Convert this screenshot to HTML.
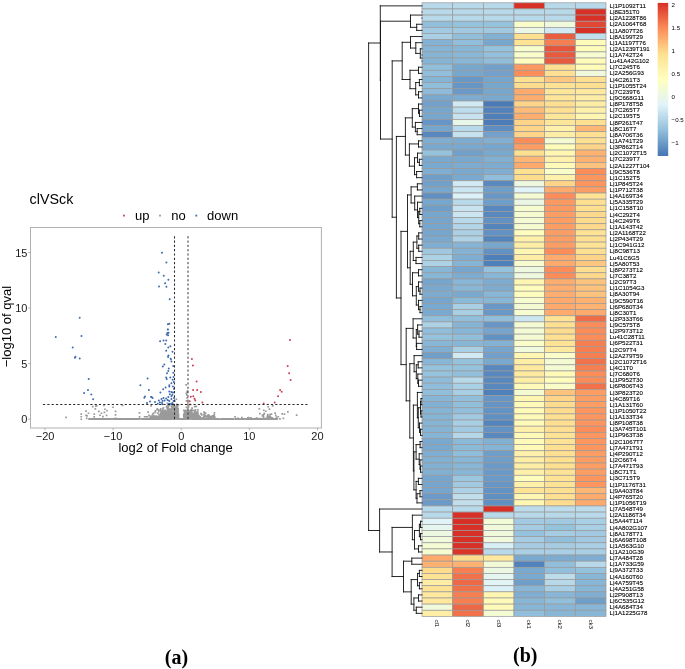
<!DOCTYPE html><html><head><meta charset="utf-8"><style>html,body{margin:0;padding:0;background:#fff;width:685px;height:669px;overflow:hidden}svg{display:block}text{font-family:"Liberation Sans",Arial,sans-serif}</style></head><body>
<svg width="685" height="669" viewBox="0 0 685 669">
<rect width="685" height="669" fill="#fff"/>
<path d="M148.9 418.1h1.7v1.7h-1.7zM210.2 418.1h1.7v1.7h-1.7zM188.6 418.1h1.7v1.7h-1.7zM99.0 418.2h1.7v1.7h-1.7zM95.2 418.1h1.7v1.7h-1.7zM101.2 418.1h1.7v1.7h-1.7zM167.7 418.2h1.7v1.7h-1.7zM111.4 418.1h1.7v1.7h-1.7zM205.8 418.2h1.7v1.7h-1.7zM196.4 418.1h1.7v1.7h-1.7zM271.2 418.1h1.7v1.7h-1.7zM249.1 418.1h1.7v1.7h-1.7zM115.2 418.1h1.7v1.7h-1.7zM146.0 418.2h1.7v1.7h-1.7zM122.0 418.2h1.7v1.7h-1.7zM207.9 418.1h1.7v1.7h-1.7zM190.9 418.1h1.7v1.7h-1.7zM99.3 418.1h1.7v1.7h-1.7zM215.7 418.1h1.7v1.7h-1.7zM147.1 418.2h1.7v1.7h-1.7zM173.1 418.1h1.7v1.7h-1.7zM237.1 418.2h1.7v1.7h-1.7zM133.9 418.2h1.7v1.7h-1.7zM186.6 418.2h1.7v1.7h-1.7zM224.9 418.1h1.7v1.7h-1.7zM271.9 418.1h1.7v1.7h-1.7zM166.5 418.2h1.7v1.7h-1.7zM116.6 418.1h1.7v1.7h-1.7zM95.5 418.2h1.7v1.7h-1.7zM231.5 418.2h1.7v1.7h-1.7zM252.3 418.1h1.7v1.7h-1.7zM218.5 418.2h1.7v1.7h-1.7zM196.9 418.1h1.7v1.7h-1.7zM245.6 418.2h1.7v1.7h-1.7zM177.0 418.2h1.7v1.7h-1.7zM99.5 418.2h1.7v1.7h-1.7zM209.5 418.2h1.7v1.7h-1.7zM242.3 418.1h1.7v1.7h-1.7zM160.5 418.2h1.7v1.7h-1.7zM92.4 418.1h1.7v1.7h-1.7zM119.7 418.1h1.7v1.7h-1.7zM99.2 418.2h1.7v1.7h-1.7zM112.4 418.1h1.7v1.7h-1.7zM161.5 418.2h1.7v1.7h-1.7zM103.3 418.1h1.7v1.7h-1.7zM191.2 418.2h1.7v1.7h-1.7zM241.8 418.2h1.7v1.7h-1.7zM140.4 418.1h1.7v1.7h-1.7zM155.4 418.2h1.7v1.7h-1.7zM267.7 418.1h1.7v1.7h-1.7zM121.2 418.1h1.7v1.7h-1.7zM131.9 418.1h1.7v1.7h-1.7zM198.6 418.1h1.7v1.7h-1.7zM88.9 418.1h1.7v1.7h-1.7zM157.4 418.2h1.7v1.7h-1.7zM266.9 418.2h1.7v1.7h-1.7zM184.8 418.2h1.7v1.7h-1.7zM214.9 418.1h1.7v1.7h-1.7zM256.8 418.2h1.7v1.7h-1.7zM252.1 418.2h1.7v1.7h-1.7zM161.7 418.1h1.7v1.7h-1.7zM107.6 418.2h1.7v1.7h-1.7zM99.8 418.1h1.7v1.7h-1.7zM127.3 418.1h1.7v1.7h-1.7zM151.9 418.1h1.7v1.7h-1.7zM88.2 418.1h1.7v1.7h-1.7zM107.2 418.1h1.7v1.7h-1.7zM92.9 418.2h1.7v1.7h-1.7zM203.3 418.1h1.7v1.7h-1.7zM135.4 418.1h1.7v1.7h-1.7zM156.4 418.1h1.7v1.7h-1.7zM247.3 418.2h1.7v1.7h-1.7zM175.5 418.1h1.7v1.7h-1.7zM104.3 418.1h1.7v1.7h-1.7zM152.4 418.1h1.7v1.7h-1.7zM243.6 418.1h1.7v1.7h-1.7zM92.5 418.2h1.7v1.7h-1.7zM187.2 418.1h1.7v1.7h-1.7zM190.0 418.1h1.7v1.7h-1.7zM187.2 418.2h1.7v1.7h-1.7zM250.0 418.2h1.7v1.7h-1.7zM137.1 418.1h1.7v1.7h-1.7zM119.5 418.2h1.7v1.7h-1.7zM188.0 418.2h1.7v1.7h-1.7zM150.0 418.1h1.7v1.7h-1.7zM240.3 418.2h1.7v1.7h-1.7zM248.0 418.2h1.7v1.7h-1.7zM241.6 418.2h1.7v1.7h-1.7zM130.7 418.2h1.7v1.7h-1.7zM154.8 418.1h1.7v1.7h-1.7zM93.4 418.1h1.7v1.7h-1.7zM136.7 418.2h1.7v1.7h-1.7zM267.5 418.1h1.7v1.7h-1.7zM263.8 418.2h1.7v1.7h-1.7zM267.2 418.1h1.7v1.7h-1.7zM129.5 418.1h1.7v1.7h-1.7zM125.0 418.1h1.7v1.7h-1.7zM205.2 418.2h1.7v1.7h-1.7zM245.7 418.1h1.7v1.7h-1.7zM210.6 418.2h1.7v1.7h-1.7zM104.0 418.2h1.7v1.7h-1.7zM258.7 418.2h1.7v1.7h-1.7zM228.8 418.1h1.7v1.7h-1.7zM121.6 418.2h1.7v1.7h-1.7zM150.5 418.2h1.7v1.7h-1.7zM270.3 418.1h1.7v1.7h-1.7zM163.4 418.2h1.7v1.7h-1.7zM224.0 418.1h1.7v1.7h-1.7zM112.0 418.1h1.7v1.7h-1.7zM257.8 418.2h1.7v1.7h-1.7zM115.6 418.2h1.7v1.7h-1.7zM272.0 418.2h1.7v1.7h-1.7zM153.9 418.2h1.7v1.7h-1.7zM112.7 418.1h1.7v1.7h-1.7zM270.2 418.2h1.7v1.7h-1.7zM186.9 418.2h1.7v1.7h-1.7zM169.5 418.2h1.7v1.7h-1.7zM243.1 418.1h1.7v1.7h-1.7zM135.4 418.1h1.7v1.7h-1.7zM133.3 418.2h1.7v1.7h-1.7zM136.8 418.1h1.7v1.7h-1.7zM112.7 418.2h1.7v1.7h-1.7zM154.5 418.1h1.7v1.7h-1.7zM197.5 418.2h1.7v1.7h-1.7zM167.0 418.2h1.7v1.7h-1.7zM182.2 418.2h1.7v1.7h-1.7zM186.3 418.1h1.7v1.7h-1.7zM170.7 418.1h1.7v1.7h-1.7zM88.9 418.2h1.7v1.7h-1.7zM120.5 418.1h1.7v1.7h-1.7zM224.1 418.2h1.7v1.7h-1.7zM149.3 418.2h1.7v1.7h-1.7zM192.3 418.2h1.7v1.7h-1.7zM108.0 418.2h1.7v1.7h-1.7zM134.7 418.1h1.7v1.7h-1.7zM232.9 418.2h1.7v1.7h-1.7zM193.5 418.2h1.7v1.7h-1.7zM259.2 418.1h1.7v1.7h-1.7zM203.0 418.2h1.7v1.7h-1.7zM184.2 418.2h1.7v1.7h-1.7zM173.0 418.2h1.7v1.7h-1.7zM177.8 418.2h1.7v1.7h-1.7zM219.3 418.2h1.7v1.7h-1.7zM264.8 418.1h1.7v1.7h-1.7zM193.1 418.2h1.7v1.7h-1.7zM245.6 418.1h1.7v1.7h-1.7zM111.0 418.1h1.7v1.7h-1.7zM101.8 418.1h1.7v1.7h-1.7zM101.9 418.2h1.7v1.7h-1.7zM235.1 418.2h1.7v1.7h-1.7zM117.1 418.2h1.7v1.7h-1.7zM211.9 418.1h1.7v1.7h-1.7zM253.7 418.2h1.7v1.7h-1.7zM129.3 418.2h1.7v1.7h-1.7zM162.8 418.1h1.7v1.7h-1.7zM273.8 418.2h1.7v1.7h-1.7zM118.4 418.1h1.7v1.7h-1.7zM184.8 418.1h1.7v1.7h-1.7zM124.9 418.1h1.7v1.7h-1.7zM223.6 418.1h1.7v1.7h-1.7zM192.0 418.1h1.7v1.7h-1.7zM91.5 418.1h1.7v1.7h-1.7zM205.1 418.2h1.7v1.7h-1.7zM100.2 418.2h1.7v1.7h-1.7zM236.0 418.2h1.7v1.7h-1.7zM107.8 418.1h1.7v1.7h-1.7zM95.6 418.2h1.7v1.7h-1.7zM138.9 418.1h1.7v1.7h-1.7zM167.3 418.2h1.7v1.7h-1.7zM241.7 418.1h1.7v1.7h-1.7zM116.2 418.2h1.7v1.7h-1.7zM195.1 418.2h1.7v1.7h-1.7zM104.9 418.1h1.7v1.7h-1.7zM217.2 418.1h1.7v1.7h-1.7zM101.7 418.2h1.7v1.7h-1.7zM207.1 418.2h1.7v1.7h-1.7zM103.9 418.2h1.7v1.7h-1.7zM100.6 418.2h1.7v1.7h-1.7zM173.2 418.1h1.7v1.7h-1.7zM191.8 418.2h1.7v1.7h-1.7zM138.4 418.1h1.7v1.7h-1.7zM186.9 418.1h1.7v1.7h-1.7zM108.7 418.1h1.7v1.7h-1.7zM97.6 418.1h1.7v1.7h-1.7zM146.6 418.1h1.7v1.7h-1.7zM230.6 418.1h1.7v1.7h-1.7zM181.9 418.1h1.7v1.7h-1.7zM153.2 418.1h1.7v1.7h-1.7zM135.1 418.1h1.7v1.7h-1.7zM225.6 418.2h1.7v1.7h-1.7zM123.7 418.1h1.7v1.7h-1.7zM263.4 418.1h1.7v1.7h-1.7zM241.7 418.1h1.7v1.7h-1.7zM181.0 418.2h1.7v1.7h-1.7zM161.9 418.2h1.7v1.7h-1.7zM217.1 418.2h1.7v1.7h-1.7zM152.4 418.2h1.7v1.7h-1.7zM220.7 418.2h1.7v1.7h-1.7zM164.0 418.1h1.7v1.7h-1.7zM98.3 418.1h1.7v1.7h-1.7zM101.4 418.2h1.7v1.7h-1.7zM136.1 418.1h1.7v1.7h-1.7zM104.0 418.2h1.7v1.7h-1.7zM251.4 418.2h1.7v1.7h-1.7zM141.0 418.1h1.7v1.7h-1.7zM143.1 418.1h1.7v1.7h-1.7zM117.7 418.1h1.7v1.7h-1.7zM137.5 418.2h1.7v1.7h-1.7zM270.5 418.2h1.7v1.7h-1.7zM134.0 418.2h1.7v1.7h-1.7zM146.2 418.1h1.7v1.7h-1.7zM88.4 418.1h1.7v1.7h-1.7zM177.1 418.2h1.7v1.7h-1.7zM125.8 418.2h1.7v1.7h-1.7zM89.1 418.1h1.7v1.7h-1.7zM105.0 418.1h1.7v1.7h-1.7zM96.0 418.1h1.7v1.7h-1.7zM145.2 418.1h1.7v1.7h-1.7zM197.9 418.2h1.7v1.7h-1.7zM228.9 418.2h1.7v1.7h-1.7zM222.4 418.2h1.7v1.7h-1.7zM161.2 418.1h1.7v1.7h-1.7zM272.8 418.1h1.7v1.7h-1.7zM223.9 418.2h1.7v1.7h-1.7zM96.4 418.2h1.7v1.7h-1.7zM255.4 418.2h1.7v1.7h-1.7zM225.7 418.2h1.7v1.7h-1.7zM114.3 418.2h1.7v1.7h-1.7zM182.7 418.2h1.7v1.7h-1.7zM239.0 418.2h1.7v1.7h-1.7zM197.7 418.2h1.7v1.7h-1.7zM216.2 418.2h1.7v1.7h-1.7zM131.3 418.1h1.7v1.7h-1.7zM113.1 418.1h1.7v1.7h-1.7zM107.8 418.2h1.7v1.7h-1.7zM192.9 418.2h1.7v1.7h-1.7zM205.6 418.2h1.7v1.7h-1.7zM179.9 418.1h1.7v1.7h-1.7zM237.7 418.2h1.7v1.7h-1.7zM182.5 418.2h1.7v1.7h-1.7zM211.8 418.1h1.7v1.7h-1.7zM226.3 418.1h1.7v1.7h-1.7zM102.1 418.1h1.7v1.7h-1.7zM224.9 418.1h1.7v1.7h-1.7zM226.9 418.2h1.7v1.7h-1.7zM180.8 418.1h1.7v1.7h-1.7zM178.0 418.2h1.7v1.7h-1.7zM232.0 418.2h1.7v1.7h-1.7zM208.7 418.1h1.7v1.7h-1.7zM115.8 418.1h1.7v1.7h-1.7zM227.5 418.1h1.7v1.7h-1.7zM194.6 418.1h1.7v1.7h-1.7zM99.5 418.1h1.7v1.7h-1.7zM214.2 418.2h1.7v1.7h-1.7zM214.8 418.1h1.7v1.7h-1.7zM185.0 418.1h1.7v1.7h-1.7zM175.6 418.1h1.7v1.7h-1.7zM255.7 418.1h1.7v1.7h-1.7zM271.5 418.2h1.7v1.7h-1.7zM91.4 418.1h1.7v1.7h-1.7zM241.9 418.2h1.7v1.7h-1.7zM172.4 418.1h1.7v1.7h-1.7zM127.5 418.2h1.7v1.7h-1.7zM127.7 418.2h1.7v1.7h-1.7zM114.7 418.2h1.7v1.7h-1.7zM266.8 418.1h1.7v1.7h-1.7zM241.9 418.2h1.7v1.7h-1.7zM254.4 418.2h1.7v1.7h-1.7zM131.5 418.2h1.7v1.7h-1.7zM179.3 418.1h1.7v1.7h-1.7zM88.8 418.1h1.7v1.7h-1.7zM172.7 418.1h1.7v1.7h-1.7zM114.5 418.1h1.7v1.7h-1.7zM147.4 418.2h1.7v1.7h-1.7zM88.5 418.2h1.7v1.7h-1.7zM245.5 418.1h1.7v1.7h-1.7zM261.8 418.2h1.7v1.7h-1.7zM257.2 418.1h1.7v1.7h-1.7zM157.9 418.1h1.7v1.7h-1.7zM275.4 418.2h1.7v1.7h-1.7zM155.8 418.1h1.7v1.7h-1.7zM139.7 418.1h1.7v1.7h-1.7zM107.2 418.2h1.7v1.7h-1.7zM141.7 418.2h1.7v1.7h-1.7zM134.9 418.1h1.7v1.7h-1.7zM184.0 418.1h1.7v1.7h-1.7zM158.2 418.2h1.7v1.7h-1.7zM253.9 418.2h1.7v1.7h-1.7zM206.4 418.2h1.7v1.7h-1.7zM264.5 418.2h1.7v1.7h-1.7zM223.1 418.1h1.7v1.7h-1.7zM225.5 418.1h1.7v1.7h-1.7zM229.3 418.2h1.7v1.7h-1.7zM141.8 418.1h1.7v1.7h-1.7zM261.9 418.1h1.7v1.7h-1.7zM176.7 418.1h1.7v1.7h-1.7zM144.0 418.2h1.7v1.7h-1.7zM271.2 418.1h1.7v1.7h-1.7zM211.1 418.1h1.7v1.7h-1.7zM192.6 418.1h1.7v1.7h-1.7zM119.5 418.1h1.7v1.7h-1.7zM127.1 418.2h1.7v1.7h-1.7zM181.4 418.1h1.7v1.7h-1.7zM258.1 418.2h1.7v1.7h-1.7zM172.5 418.1h1.7v1.7h-1.7zM124.2 418.1h1.7v1.7h-1.7zM152.3 418.1h1.7v1.7h-1.7zM133.0 418.1h1.7v1.7h-1.7zM195.0 418.2h1.7v1.7h-1.7zM228.7 418.1h1.7v1.7h-1.7zM165.8 418.2h1.7v1.7h-1.7zM158.8 418.1h1.7v1.7h-1.7zM99.8 418.1h1.7v1.7h-1.7zM269.6 418.1h1.7v1.7h-1.7zM182.5 418.2h1.7v1.7h-1.7zM249.9 418.1h1.7v1.7h-1.7zM139.0 418.1h1.7v1.7h-1.7zM163.1 418.1h1.7v1.7h-1.7zM267.0 418.2h1.7v1.7h-1.7zM251.8 418.1h1.7v1.7h-1.7zM94.2 418.2h1.7v1.7h-1.7zM256.1 418.1h1.7v1.7h-1.7zM198.2 418.1h1.7v1.7h-1.7zM161.6 418.2h1.7v1.7h-1.7zM242.9 418.2h1.7v1.7h-1.7zM270.4 418.1h1.7v1.7h-1.7zM108.6 418.1h1.7v1.7h-1.7zM186.1 418.2h1.7v1.7h-1.7zM264.7 418.2h1.7v1.7h-1.7zM209.5 418.2h1.7v1.7h-1.7zM173.9 418.2h1.7v1.7h-1.7zM95.6 418.2h1.7v1.7h-1.7zM131.8 418.2h1.7v1.7h-1.7zM209.2 418.1h1.7v1.7h-1.7zM112.1 418.1h1.7v1.7h-1.7zM207.5 418.2h1.7v1.7h-1.7zM109.2 418.1h1.7v1.7h-1.7zM186.5 418.2h1.7v1.7h-1.7zM160.9 418.1h1.7v1.7h-1.7zM200.8 418.1h1.7v1.7h-1.7zM144.7 418.1h1.7v1.7h-1.7zM268.0 418.2h1.7v1.7h-1.7zM253.9 418.1h1.7v1.7h-1.7zM132.2 418.1h1.7v1.7h-1.7zM268.3 418.2h1.7v1.7h-1.7zM145.8 418.1h1.7v1.7h-1.7zM181.6 418.2h1.7v1.7h-1.7zM166.9 418.1h1.7v1.7h-1.7zM213.3 418.2h1.7v1.7h-1.7zM130.7 418.1h1.7v1.7h-1.7zM151.5 418.1h1.7v1.7h-1.7zM216.1 418.1h1.7v1.7h-1.7zM237.6 418.2h1.7v1.7h-1.7zM182.8 418.1h1.7v1.7h-1.7zM270.0 418.1h1.7v1.7h-1.7zM241.9 418.1h1.7v1.7h-1.7zM129.7 418.2h1.7v1.7h-1.7zM143.4 418.2h1.7v1.7h-1.7zM181.1 418.1h1.7v1.7h-1.7zM130.0 418.1h1.7v1.7h-1.7zM212.9 418.2h1.7v1.7h-1.7zM115.6 418.1h1.7v1.7h-1.7zM128.1 418.2h1.7v1.7h-1.7zM114.8 418.1h1.7v1.7h-1.7zM99.4 418.1h1.7v1.7h-1.7zM256.6 418.2h1.7v1.7h-1.7zM225.5 418.2h1.7v1.7h-1.7zM262.8 418.1h1.7v1.7h-1.7zM122.9 418.2h1.7v1.7h-1.7zM228.1 418.1h1.7v1.7h-1.7zM212.7 418.1h1.7v1.7h-1.7zM158.3 418.1h1.7v1.7h-1.7zM119.9 418.1h1.7v1.7h-1.7zM140.6 418.1h1.7v1.7h-1.7zM267.3 418.1h1.7v1.7h-1.7zM269.0 418.1h1.7v1.7h-1.7zM155.0 418.2h1.7v1.7h-1.7zM242.3 418.1h1.7v1.7h-1.7zM97.4 418.1h1.7v1.7h-1.7zM158.0 418.2h1.7v1.7h-1.7zM124.3 418.1h1.7v1.7h-1.7zM256.3 418.1h1.7v1.7h-1.7zM165.2 418.2h1.7v1.7h-1.7zM231.9 418.1h1.7v1.7h-1.7zM94.7 418.1h1.7v1.7h-1.7zM260.7 418.1h1.7v1.7h-1.7zM228.3 418.2h1.7v1.7h-1.7zM151.7 418.1h1.7v1.7h-1.7zM267.7 418.2h1.7v1.7h-1.7zM137.3 418.2h1.7v1.7h-1.7zM147.5 418.1h1.7v1.7h-1.7zM88.9 418.2h1.7v1.7h-1.7zM260.0 418.2h1.7v1.7h-1.7zM265.0 418.1h1.7v1.7h-1.7zM132.0 418.1h1.7v1.7h-1.7zM267.5 418.2h1.7v1.7h-1.7zM160.6 418.1h1.7v1.7h-1.7zM168.8 418.1h1.7v1.7h-1.7zM262.2 418.1h1.7v1.7h-1.7zM238.6 418.2h1.7v1.7h-1.7zM242.4 418.2h1.7v1.7h-1.7zM202.0 418.1h1.7v1.7h-1.7zM148.1 418.1h1.7v1.7h-1.7zM234.8 418.1h1.7v1.7h-1.7zM125.1 418.2h1.7v1.7h-1.7zM134.5 418.1h1.7v1.7h-1.7zM94.5 418.2h1.7v1.7h-1.7zM149.2 418.2h1.7v1.7h-1.7zM253.8 418.2h1.7v1.7h-1.7zM137.8 418.1h1.7v1.7h-1.7zM106.2 418.1h1.7v1.7h-1.7zM221.2 418.1h1.7v1.7h-1.7zM132.1 418.1h1.7v1.7h-1.7zM204.5 418.2h1.7v1.7h-1.7zM228.4 418.2h1.7v1.7h-1.7zM212.7 418.1h1.7v1.7h-1.7zM245.8 418.1h1.7v1.7h-1.7zM194.4 418.1h1.7v1.7h-1.7zM226.5 418.1h1.7v1.7h-1.7zM134.5 418.1h1.7v1.7h-1.7zM116.9 418.2h1.7v1.7h-1.7zM196.6 418.1h1.7v1.7h-1.7zM162.4 418.2h1.7v1.7h-1.7zM183.3 418.1h1.7v1.7h-1.7zM239.7 418.2h1.7v1.7h-1.7zM274.0 418.1h1.7v1.7h-1.7zM177.2 418.2h1.7v1.7h-1.7zM245.8 418.2h1.7v1.7h-1.7zM95.7 418.1h1.7v1.7h-1.7zM110.5 418.1h1.7v1.7h-1.7zM270.6 418.2h1.7v1.7h-1.7zM262.6 418.1h1.7v1.7h-1.7zM250.5 418.1h1.7v1.7h-1.7zM136.9 418.2h1.7v1.7h-1.7zM265.5 418.1h1.7v1.7h-1.7zM199.9 418.2h1.7v1.7h-1.7zM129.0 418.1h1.7v1.7h-1.7zM114.7 418.1h1.7v1.7h-1.7zM135.9 418.2h1.7v1.7h-1.7zM210.3 418.1h1.7v1.7h-1.7zM90.3 418.1h1.7v1.7h-1.7zM215.3 418.1h1.7v1.7h-1.7zM146.7 418.1h1.7v1.7h-1.7zM237.3 418.2h1.7v1.7h-1.7zM100.0 418.1h1.7v1.7h-1.7zM162.3 418.2h1.7v1.7h-1.7zM208.0 418.1h1.7v1.7h-1.7zM118.8 418.2h1.7v1.7h-1.7zM165.0 418.1h1.7v1.7h-1.7zM145.8 418.2h1.7v1.7h-1.7zM146.7 418.2h1.7v1.7h-1.7zM155.1 418.1h1.7v1.7h-1.7zM250.2 418.2h1.7v1.7h-1.7zM156.4 418.1h1.7v1.7h-1.7zM224.7 418.1h1.7v1.7h-1.7zM89.3 418.2h1.7v1.7h-1.7zM167.6 418.2h1.7v1.7h-1.7zM164.3 418.2h1.7v1.7h-1.7zM174.6 418.1h1.7v1.7h-1.7zM90.9 418.2h1.7v1.7h-1.7zM208.3 418.2h1.7v1.7h-1.7zM104.8 418.2h1.7v1.7h-1.7zM157.7 418.2h1.7v1.7h-1.7zM115.5 418.1h1.7v1.7h-1.7zM185.9 418.2h1.7v1.7h-1.7zM108.5 418.1h1.7v1.7h-1.7zM239.1 418.2h1.7v1.7h-1.7zM125.2 418.1h1.7v1.7h-1.7zM265.0 418.2h1.7v1.7h-1.7zM178.7 418.1h1.7v1.7h-1.7zM261.8 418.1h1.7v1.7h-1.7zM257.7 418.2h1.7v1.7h-1.7zM242.8 418.1h1.7v1.7h-1.7zM235.5 418.1h1.7v1.7h-1.7zM164.0 418.2h1.7v1.7h-1.7zM243.6 418.1h1.7v1.7h-1.7zM129.1 418.1h1.7v1.7h-1.7zM185.3 418.1h1.7v1.7h-1.7zM111.2 418.1h1.7v1.7h-1.7zM224.1 418.2h1.7v1.7h-1.7zM95.9 418.2h1.7v1.7h-1.7zM230.2 418.1h1.7v1.7h-1.7zM245.3 418.1h1.7v1.7h-1.7zM200.6 418.2h1.7v1.7h-1.7zM205.7 418.1h1.7v1.7h-1.7zM166.9 418.2h1.7v1.7h-1.7zM168.0 418.2h1.7v1.7h-1.7zM171.9 418.1h1.7v1.7h-1.7zM92.5 418.2h1.7v1.7h-1.7zM179.9 418.1h1.7v1.7h-1.7zM231.3 418.2h1.7v1.7h-1.7zM174.1 418.1h1.7v1.7h-1.7zM176.9 418.1h1.7v1.7h-1.7zM112.2 418.1h1.7v1.7h-1.7zM105.3 418.1h1.7v1.7h-1.7zM183.8 418.1h1.7v1.7h-1.7zM207.5 418.1h1.7v1.7h-1.7zM225.7 418.2h1.7v1.7h-1.7zM184.1 418.1h1.7v1.7h-1.7zM182.6 418.1h1.7v1.7h-1.7zM266.4 418.1h1.7v1.7h-1.7zM248.9 418.2h1.7v1.7h-1.7zM225.4 418.2h1.7v1.7h-1.7zM124.5 418.2h1.7v1.7h-1.7zM180.4 418.2h1.7v1.7h-1.7zM259.9 418.1h1.7v1.7h-1.7zM236.0 418.2h1.7v1.7h-1.7zM100.4 418.1h1.7v1.7h-1.7zM229.9 418.1h1.7v1.7h-1.7zM256.3 418.1h1.7v1.7h-1.7zM241.1 418.1h1.7v1.7h-1.7zM182.3 418.2h1.7v1.7h-1.7zM127.2 418.1h1.7v1.7h-1.7zM183.0 418.1h1.7v1.7h-1.7zM95.1 418.1h1.7v1.7h-1.7zM118.4 418.2h1.7v1.7h-1.7zM215.6 418.2h1.7v1.7h-1.7zM119.8 418.2h1.7v1.7h-1.7zM109.7 418.2h1.7v1.7h-1.7zM207.5 418.1h1.7v1.7h-1.7zM251.8 418.2h1.7v1.7h-1.7zM196.9 418.2h1.7v1.7h-1.7zM107.8 418.2h1.7v1.7h-1.7zM206.2 418.1h1.7v1.7h-1.7zM237.7 418.1h1.7v1.7h-1.7zM273.9 418.2h1.7v1.7h-1.7zM155.7 418.2h1.7v1.7h-1.7zM171.1 418.1h1.7v1.7h-1.7zM227.6 418.1h1.7v1.7h-1.7zM241.9 418.1h1.7v1.7h-1.7zM208.0 418.2h1.7v1.7h-1.7zM198.0 418.2h1.7v1.7h-1.7zM146.8 418.1h1.7v1.7h-1.7zM94.5 418.1h1.7v1.7h-1.7zM203.7 418.1h1.7v1.7h-1.7zM184.3 418.2h1.7v1.7h-1.7zM112.9 418.1h1.7v1.7h-1.7zM210.6 418.1h1.7v1.7h-1.7zM88.6 418.1h1.7v1.7h-1.7zM108.1 418.1h1.7v1.7h-1.7zM130.2 418.2h1.7v1.7h-1.7zM198.6 418.1h1.7v1.7h-1.7zM205.1 418.1h1.7v1.7h-1.7zM113.4 418.2h1.7v1.7h-1.7zM133.8 418.1h1.7v1.7h-1.7zM106.1 418.2h1.7v1.7h-1.7zM251.5 418.2h1.7v1.7h-1.7zM163.5 418.1h1.7v1.7h-1.7zM90.3 418.2h1.7v1.7h-1.7zM193.6 418.1h1.7v1.7h-1.7zM209.2 418.1h1.7v1.7h-1.7zM263.9 418.2h1.7v1.7h-1.7zM134.7 418.2h1.7v1.7h-1.7zM96.4 418.2h1.7v1.7h-1.7zM164.3 418.1h1.7v1.7h-1.7zM99.1 418.2h1.7v1.7h-1.7zM90.5 418.2h1.7v1.7h-1.7zM264.6 418.1h1.7v1.7h-1.7zM125.6 418.2h1.7v1.7h-1.7zM183.2 418.2h1.7v1.7h-1.7zM240.7 418.1h1.7v1.7h-1.7zM146.2 418.1h1.7v1.7h-1.7zM97.2 418.2h1.7v1.7h-1.7zM235.0 418.2h1.7v1.7h-1.7zM89.3 418.2h1.7v1.7h-1.7zM227.9 418.1h1.7v1.7h-1.7zM227.2 418.1h1.7v1.7h-1.7zM130.5 418.1h1.7v1.7h-1.7zM131.7 418.1h1.7v1.7h-1.7zM151.1 418.2h1.7v1.7h-1.7zM218.5 418.2h1.7v1.7h-1.7zM221.6 418.1h1.7v1.7h-1.7zM192.0 418.1h1.7v1.7h-1.7zM236.0 418.2h1.7v1.7h-1.7zM137.9 418.2h1.7v1.7h-1.7zM269.1 418.1h1.7v1.7h-1.7zM253.2 418.1h1.7v1.7h-1.7zM137.0 418.1h1.7v1.7h-1.7zM227.6 418.2h1.7v1.7h-1.7zM228.1 418.1h1.7v1.7h-1.7zM253.2 418.1h1.7v1.7h-1.7zM133.0 418.2h1.7v1.7h-1.7zM206.4 418.2h1.7v1.7h-1.7zM212.9 418.2h1.7v1.7h-1.7zM176.2 418.2h1.7v1.7h-1.7zM219.0 418.2h1.7v1.7h-1.7zM170.1 418.2h1.7v1.7h-1.7zM195.1 418.1h1.7v1.7h-1.7zM127.9 418.2h1.7v1.7h-1.7zM102.7 418.2h1.7v1.7h-1.7zM115.3 418.1h1.7v1.7h-1.7zM108.2 418.2h1.7v1.7h-1.7zM152.8 418.1h1.7v1.7h-1.7zM93.5 418.1h1.7v1.7h-1.7zM218.0 418.2h1.7v1.7h-1.7zM218.8 418.2h1.7v1.7h-1.7zM100.5 418.2h1.7v1.7h-1.7zM156.3 418.2h1.7v1.7h-1.7zM241.8 418.2h1.7v1.7h-1.7zM100.5 418.2h1.7v1.7h-1.7zM158.3 413.6h1.7v1.7h-1.7zM150.2 417.6h1.7v1.7h-1.7zM150.3 417.9h1.7v1.7h-1.7zM157.6 415.4h1.7v1.7h-1.7zM155.5 415.3h1.7v1.7h-1.7zM155.5 417.4h1.7v1.7h-1.7zM150.1 417.8h1.7v1.7h-1.7zM156.7 417.6h1.7v1.7h-1.7zM152.3 417.1h1.7v1.7h-1.7zM149.4 417.5h1.7v1.7h-1.7zM152.0 416.1h1.7v1.7h-1.7zM152.8 417.4h1.7v1.7h-1.7zM158.8 416.9h1.7v1.7h-1.7zM157.7 416.5h1.7v1.7h-1.7zM149.5 417.2h1.7v1.7h-1.7zM153.5 415.7h1.7v1.7h-1.7zM152.6 416.1h1.7v1.7h-1.7zM154.5 417.6h1.7v1.7h-1.7zM157.8 417.8h1.7v1.7h-1.7zM157.3 417.7h1.7v1.7h-1.7zM149.2 417.6h1.7v1.7h-1.7zM156.8 412.2h1.7v1.7h-1.7zM149.2 416.9h1.7v1.7h-1.7zM154.1 415.6h1.7v1.7h-1.7zM151.0 416.9h1.7v1.7h-1.7zM152.6 415.3h1.7v1.7h-1.7zM151.8 413.6h1.7v1.7h-1.7zM152.0 417.6h1.7v1.7h-1.7zM156.1 416.9h1.7v1.7h-1.7zM150.2 416.4h1.7v1.7h-1.7zM150.0 415.6h1.7v1.7h-1.7zM156.1 415.6h1.7v1.7h-1.7zM155.4 417.3h1.7v1.7h-1.7zM153.2 417.2h1.7v1.7h-1.7zM158.1 417.8h1.7v1.7h-1.7zM158.0 417.9h1.7v1.7h-1.7zM151.2 417.5h1.7v1.7h-1.7zM158.2 416.9h1.7v1.7h-1.7zM152.9 414.7h1.7v1.7h-1.7zM151.5 417.0h1.7v1.7h-1.7zM154.5 415.8h1.7v1.7h-1.7zM156.7 416.4h1.7v1.7h-1.7zM152.6 417.4h1.7v1.7h-1.7zM150.7 415.2h1.7v1.7h-1.7zM155.8 415.9h1.7v1.7h-1.7zM160.3 416.2h1.7v1.7h-1.7zM164.6 415.4h1.7v1.7h-1.7zM160.0 416.1h1.7v1.7h-1.7zM165.3 417.1h1.7v1.7h-1.7zM160.5 416.9h1.7v1.7h-1.7zM164.1 412.4h1.7v1.7h-1.7zM160.2 417.4h1.7v1.7h-1.7zM160.9 416.8h1.7v1.7h-1.7zM162.8 417.4h1.7v1.7h-1.7zM161.4 417.3h1.7v1.7h-1.7zM166.0 414.0h1.7v1.7h-1.7zM159.9 408.1h1.7v1.7h-1.7zM159.9 416.5h1.7v1.7h-1.7zM166.0 413.2h1.7v1.7h-1.7zM164.3 416.2h1.7v1.7h-1.7zM160.5 414.9h1.7v1.7h-1.7zM159.9 417.3h1.7v1.7h-1.7zM161.9 417.8h1.7v1.7h-1.7zM161.9 413.3h1.7v1.7h-1.7zM164.0 415.9h1.7v1.7h-1.7zM163.6 416.1h1.7v1.7h-1.7zM160.1 415.2h1.7v1.7h-1.7zM162.0 413.9h1.7v1.7h-1.7zM165.5 416.3h1.7v1.7h-1.7zM163.2 413.8h1.7v1.7h-1.7zM162.1 417.2h1.7v1.7h-1.7zM164.2 411.6h1.7v1.7h-1.7zM164.6 414.3h1.7v1.7h-1.7zM165.1 414.5h1.7v1.7h-1.7zM163.6 416.1h1.7v1.7h-1.7zM161.3 415.0h1.7v1.7h-1.7zM159.8 416.3h1.7v1.7h-1.7zM164.6 414.2h1.7v1.7h-1.7zM163.6 417.1h1.7v1.7h-1.7zM162.1 416.1h1.7v1.7h-1.7zM163.5 416.4h1.7v1.7h-1.7zM163.9 410.0h1.7v1.7h-1.7zM160.4 414.8h1.7v1.7h-1.7zM164.6 416.5h1.7v1.7h-1.7zM162.6 406.9h1.7v1.7h-1.7zM159.4 415.6h1.7v1.7h-1.7zM160.3 413.4h1.7v1.7h-1.7zM165.7 415.8h1.7v1.7h-1.7zM159.9 415.4h1.7v1.7h-1.7zM162.9 414.2h1.7v1.7h-1.7zM162.7 414.9h1.7v1.7h-1.7zM165.0 415.7h1.7v1.7h-1.7zM162.0 409.1h1.7v1.7h-1.7zM160.6 414.5h1.7v1.7h-1.7zM161.9 413.6h1.7v1.7h-1.7zM160.0 413.7h1.7v1.7h-1.7zM159.5 417.0h1.7v1.7h-1.7zM161.9 417.9h1.7v1.7h-1.7zM162.1 416.3h1.7v1.7h-1.7zM164.0 416.6h1.7v1.7h-1.7zM161.0 417.2h1.7v1.7h-1.7zM164.3 409.5h1.7v1.7h-1.7zM162.8 417.2h1.7v1.7h-1.7zM164.8 416.5h1.7v1.7h-1.7zM160.6 417.5h1.7v1.7h-1.7zM164.6 413.0h1.7v1.7h-1.7zM163.6 416.1h1.7v1.7h-1.7zM163.1 417.2h1.7v1.7h-1.7zM165.9 416.6h1.7v1.7h-1.7zM163.6 412.8h1.7v1.7h-1.7zM164.9 416.1h1.7v1.7h-1.7zM161.2 415.6h1.7v1.7h-1.7zM160.0 412.6h1.7v1.7h-1.7zM161.6 412.2h1.7v1.7h-1.7zM161.0 416.5h1.7v1.7h-1.7zM160.9 416.3h1.7v1.7h-1.7zM160.5 417.9h1.7v1.7h-1.7zM164.2 417.0h1.7v1.7h-1.7zM160.9 416.9h1.7v1.7h-1.7zM162.5 416.3h1.7v1.7h-1.7zM163.6 414.7h1.7v1.7h-1.7zM161.7 410.0h1.7v1.7h-1.7zM165.1 417.8h1.7v1.7h-1.7zM164.9 410.9h1.7v1.7h-1.7zM164.6 417.5h1.7v1.7h-1.7zM165.0 414.9h1.7v1.7h-1.7zM159.3 417.9h1.7v1.7h-1.7zM165.8 414.7h1.7v1.7h-1.7zM160.9 417.6h1.7v1.7h-1.7zM160.1 417.2h1.7v1.7h-1.7zM164.6 416.7h1.7v1.7h-1.7zM160.2 410.9h1.7v1.7h-1.7zM164.7 417.4h1.7v1.7h-1.7zM165.4 415.1h1.7v1.7h-1.7zM164.6 414.6h1.7v1.7h-1.7zM165.4 413.3h1.7v1.7h-1.7zM165.0 417.3h1.7v1.7h-1.7zM164.0 415.7h1.7v1.7h-1.7zM164.3 416.2h1.7v1.7h-1.7zM165.3 415.5h1.7v1.7h-1.7zM161.0 417.1h1.7v1.7h-1.7zM160.1 415.9h1.7v1.7h-1.7zM159.6 416.1h1.7v1.7h-1.7zM160.2 415.9h1.7v1.7h-1.7zM162.6 415.6h1.7v1.7h-1.7zM165.2 417.9h1.7v1.7h-1.7zM165.0 416.1h1.7v1.7h-1.7zM163.1 414.7h1.7v1.7h-1.7zM165.0 416.5h1.7v1.7h-1.7zM162.1 408.2h1.7v1.7h-1.7zM159.7 414.9h1.7v1.7h-1.7zM163.6 417.9h1.7v1.7h-1.7zM163.4 414.5h1.7v1.7h-1.7zM165.7 416.7h1.7v1.7h-1.7zM166.0 415.8h1.7v1.7h-1.7zM162.5 411.1h1.7v1.7h-1.7zM159.4 414.2h1.7v1.7h-1.7zM163.5 416.7h1.7v1.7h-1.7zM165.2 416.6h1.7v1.7h-1.7zM162.5 415.7h1.7v1.7h-1.7zM164.5 417.2h1.7v1.7h-1.7zM162.2 416.3h1.7v1.7h-1.7zM163.0 412.7h1.7v1.7h-1.7zM161.2 412.7h1.7v1.7h-1.7zM162.0 415.8h1.7v1.7h-1.7zM161.1 415.8h1.7v1.7h-1.7zM166.0 414.8h1.7v1.7h-1.7zM164.7 416.7h1.7v1.7h-1.7zM161.4 416.9h1.7v1.7h-1.7zM163.3 414.9h1.7v1.7h-1.7zM164.6 417.8h1.7v1.7h-1.7zM164.2 411.4h1.7v1.7h-1.7zM163.0 417.8h1.7v1.7h-1.7zM161.3 417.9h1.7v1.7h-1.7zM160.5 410.3h1.7v1.7h-1.7zM163.4 414.7h1.7v1.7h-1.7zM164.7 410.7h1.7v1.7h-1.7zM163.4 415.1h1.7v1.7h-1.7zM163.5 414.4h1.7v1.7h-1.7zM163.3 414.5h1.7v1.7h-1.7zM160.6 414.7h1.7v1.7h-1.7zM162.4 413.6h1.7v1.7h-1.7zM159.9 417.3h1.7v1.7h-1.7zM159.4 413.5h1.7v1.7h-1.7zM165.5 414.8h1.7v1.7h-1.7zM161.7 412.8h1.7v1.7h-1.7zM164.7 415.5h1.7v1.7h-1.7zM161.0 416.9h1.7v1.7h-1.7zM162.1 416.8h1.7v1.7h-1.7zM162.2 414.9h1.7v1.7h-1.7zM165.7 417.8h1.7v1.7h-1.7zM163.1 417.8h1.7v1.7h-1.7zM160.0 413.0h1.7v1.7h-1.7zM163.2 410.4h1.7v1.7h-1.7zM162.3 417.9h1.7v1.7h-1.7zM161.9 415.3h1.7v1.7h-1.7zM165.7 406.1h1.7v1.7h-1.7zM162.5 416.4h1.7v1.7h-1.7zM159.9 414.8h1.7v1.7h-1.7zM160.6 417.5h1.7v1.7h-1.7zM159.3 417.9h1.7v1.7h-1.7zM163.9 417.6h1.7v1.7h-1.7zM165.9 417.7h1.7v1.7h-1.7zM165.2 417.5h1.7v1.7h-1.7zM159.3 414.1h1.7v1.7h-1.7zM160.8 414.0h1.7v1.7h-1.7zM160.5 417.8h1.7v1.7h-1.7zM164.6 414.2h1.7v1.7h-1.7zM165.1 414.0h1.7v1.7h-1.7zM159.7 415.0h1.7v1.7h-1.7zM164.1 416.1h1.7v1.7h-1.7zM165.7 417.1h1.7v1.7h-1.7zM165.9 414.2h1.7v1.7h-1.7zM159.2 417.9h1.7v1.7h-1.7zM163.7 412.8h1.7v1.7h-1.7zM167.1 416.4h1.7v1.7h-1.7zM174.6 417.2h1.7v1.7h-1.7zM176.1 415.2h1.7v1.7h-1.7zM166.8 416.0h1.7v1.7h-1.7zM172.8 415.5h1.7v1.7h-1.7zM174.0 417.3h1.7v1.7h-1.7zM175.4 416.1h1.7v1.7h-1.7zM173.6 413.8h1.7v1.7h-1.7zM171.0 415.9h1.7v1.7h-1.7zM175.3 405.8h1.7v1.7h-1.7zM175.3 414.4h1.7v1.7h-1.7zM169.5 417.7h1.7v1.7h-1.7zM177.4 412.8h1.7v1.7h-1.7zM175.7 416.3h1.7v1.7h-1.7zM173.2 405.5h1.7v1.7h-1.7zM173.1 416.4h1.7v1.7h-1.7zM171.1 408.8h1.7v1.7h-1.7zM170.5 413.1h1.7v1.7h-1.7zM173.1 408.4h1.7v1.7h-1.7zM175.5 416.6h1.7v1.7h-1.7zM166.2 416.7h1.7v1.7h-1.7zM171.1 414.2h1.7v1.7h-1.7zM175.6 408.8h1.7v1.7h-1.7zM166.6 410.4h1.7v1.7h-1.7zM175.6 409.5h1.7v1.7h-1.7zM172.8 416.6h1.7v1.7h-1.7zM176.0 411.0h1.7v1.7h-1.7zM174.1 407.7h1.7v1.7h-1.7zM170.2 417.6h1.7v1.7h-1.7zM172.6 411.2h1.7v1.7h-1.7zM168.5 412.1h1.7v1.7h-1.7zM177.0 416.8h1.7v1.7h-1.7zM173.2 413.2h1.7v1.7h-1.7zM171.5 417.0h1.7v1.7h-1.7zM169.1 412.1h1.7v1.7h-1.7zM175.3 415.4h1.7v1.7h-1.7zM167.2 411.0h1.7v1.7h-1.7zM175.1 416.8h1.7v1.7h-1.7zM172.9 408.4h1.7v1.7h-1.7zM176.4 414.9h1.7v1.7h-1.7zM171.7 414.2h1.7v1.7h-1.7zM168.3 417.1h1.7v1.7h-1.7zM168.2 412.9h1.7v1.7h-1.7zM170.4 414.5h1.7v1.7h-1.7zM170.8 414.9h1.7v1.7h-1.7zM167.9 417.8h1.7v1.7h-1.7zM177.7 416.0h1.7v1.7h-1.7zM167.4 413.7h1.7v1.7h-1.7zM175.3 417.2h1.7v1.7h-1.7zM173.1 416.2h1.7v1.7h-1.7zM172.2 417.9h1.7v1.7h-1.7zM166.5 405.0h1.7v1.7h-1.7zM171.8 414.4h1.7v1.7h-1.7zM169.2 411.6h1.7v1.7h-1.7zM171.1 405.7h1.7v1.7h-1.7zM175.1 410.8h1.7v1.7h-1.7zM177.3 416.7h1.7v1.7h-1.7zM166.6 417.0h1.7v1.7h-1.7zM168.2 417.6h1.7v1.7h-1.7zM166.7 414.5h1.7v1.7h-1.7zM176.2 415.4h1.7v1.7h-1.7zM177.1 407.8h1.7v1.7h-1.7zM166.9 414.1h1.7v1.7h-1.7zM170.8 417.4h1.7v1.7h-1.7zM177.3 416.7h1.7v1.7h-1.7zM172.7 413.7h1.7v1.7h-1.7zM177.2 413.3h1.7v1.7h-1.7zM170.7 415.5h1.7v1.7h-1.7zM168.0 403.8h1.7v1.7h-1.7zM177.7 416.9h1.7v1.7h-1.7zM166.6 416.7h1.7v1.7h-1.7zM170.2 408.2h1.7v1.7h-1.7zM176.6 410.3h1.7v1.7h-1.7zM166.7 411.5h1.7v1.7h-1.7zM174.4 413.6h1.7v1.7h-1.7zM177.6 417.7h1.7v1.7h-1.7zM167.8 412.0h1.7v1.7h-1.7zM177.0 413.2h1.7v1.7h-1.7zM169.6 414.2h1.7v1.7h-1.7zM174.9 417.5h1.7v1.7h-1.7zM169.9 416.7h1.7v1.7h-1.7zM167.6 415.2h1.7v1.7h-1.7zM168.1 416.8h1.7v1.7h-1.7zM167.8 413.2h1.7v1.7h-1.7zM166.3 412.6h1.7v1.7h-1.7zM168.4 417.8h1.7v1.7h-1.7zM176.9 416.9h1.7v1.7h-1.7zM177.0 409.5h1.7v1.7h-1.7zM176.5 417.3h1.7v1.7h-1.7zM171.3 417.5h1.7v1.7h-1.7zM176.9 410.2h1.7v1.7h-1.7zM173.4 415.4h1.7v1.7h-1.7zM170.1 410.7h1.7v1.7h-1.7zM171.7 413.8h1.7v1.7h-1.7zM167.8 416.9h1.7v1.7h-1.7zM166.8 412.7h1.7v1.7h-1.7zM172.6 417.3h1.7v1.7h-1.7zM176.3 416.6h1.7v1.7h-1.7zM170.9 417.2h1.7v1.7h-1.7zM169.3 410.3h1.7v1.7h-1.7zM170.0 417.2h1.7v1.7h-1.7zM171.8 416.3h1.7v1.7h-1.7zM176.6 417.4h1.7v1.7h-1.7zM177.5 417.7h1.7v1.7h-1.7zM176.5 413.3h1.7v1.7h-1.7zM168.6 415.2h1.7v1.7h-1.7zM169.5 416.7h1.7v1.7h-1.7zM168.5 416.0h1.7v1.7h-1.7zM177.6 404.1h1.7v1.7h-1.7zM167.3 416.5h1.7v1.7h-1.7zM176.5 417.7h1.7v1.7h-1.7zM174.6 416.5h1.7v1.7h-1.7zM177.5 417.9h1.7v1.7h-1.7zM175.5 416.2h1.7v1.7h-1.7zM167.8 417.9h1.7v1.7h-1.7zM175.8 414.8h1.7v1.7h-1.7zM168.3 415.6h1.7v1.7h-1.7zM176.7 416.9h1.7v1.7h-1.7zM172.8 417.3h1.7v1.7h-1.7zM168.2 411.8h1.7v1.7h-1.7zM174.4 417.0h1.7v1.7h-1.7zM167.1 417.6h1.7v1.7h-1.7zM173.2 415.1h1.7v1.7h-1.7zM169.3 417.0h1.7v1.7h-1.7zM173.3 412.8h1.7v1.7h-1.7zM175.6 414.3h1.7v1.7h-1.7zM168.5 417.7h1.7v1.7h-1.7zM174.6 415.7h1.7v1.7h-1.7zM174.5 417.7h1.7v1.7h-1.7zM175.6 416.2h1.7v1.7h-1.7zM175.9 409.6h1.7v1.7h-1.7zM171.9 417.9h1.7v1.7h-1.7zM176.7 415.2h1.7v1.7h-1.7zM176.3 416.6h1.7v1.7h-1.7zM168.3 410.5h1.7v1.7h-1.7zM170.4 417.2h1.7v1.7h-1.7zM170.5 414.2h1.7v1.7h-1.7zM166.2 414.9h1.7v1.7h-1.7zM171.3 414.9h1.7v1.7h-1.7zM167.6 412.7h1.7v1.7h-1.7zM175.6 409.5h1.7v1.7h-1.7zM169.9 412.7h1.7v1.7h-1.7zM170.6 412.1h1.7v1.7h-1.7zM166.9 409.3h1.7v1.7h-1.7zM177.2 415.1h1.7v1.7h-1.7zM172.1 414.8h1.7v1.7h-1.7zM172.4 417.9h1.7v1.7h-1.7zM177.4 416.9h1.7v1.7h-1.7zM168.3 417.5h1.7v1.7h-1.7zM169.1 410.8h1.7v1.7h-1.7zM166.5 417.5h1.7v1.7h-1.7zM174.3 417.0h1.7v1.7h-1.7zM166.4 414.1h1.7v1.7h-1.7zM172.8 414.8h1.7v1.7h-1.7zM174.3 417.5h1.7v1.7h-1.7zM176.2 412.6h1.7v1.7h-1.7zM166.7 417.4h1.7v1.7h-1.7zM171.9 415.0h1.7v1.7h-1.7zM169.4 417.4h1.7v1.7h-1.7zM170.9 417.3h1.7v1.7h-1.7zM173.0 409.7h1.7v1.7h-1.7zM167.9 414.4h1.7v1.7h-1.7zM174.8 417.2h1.7v1.7h-1.7zM175.7 406.3h1.7v1.7h-1.7zM170.7 415.7h1.7v1.7h-1.7zM175.9 414.8h1.7v1.7h-1.7zM170.7 406.0h1.7v1.7h-1.7zM175.2 416.2h1.7v1.7h-1.7zM168.9 416.2h1.7v1.7h-1.7zM171.2 405.9h1.7v1.7h-1.7zM176.7 410.9h1.7v1.7h-1.7zM176.0 417.7h1.7v1.7h-1.7zM172.2 404.6h1.7v1.7h-1.7zM177.0 416.7h1.7v1.7h-1.7zM171.0 413.7h1.7v1.7h-1.7zM170.4 414.8h1.7v1.7h-1.7zM167.0 415.6h1.7v1.7h-1.7zM172.0 417.9h1.7v1.7h-1.7zM167.8 403.3h1.7v1.7h-1.7zM175.2 406.3h1.7v1.7h-1.7zM173.5 411.0h1.7v1.7h-1.7zM176.4 408.9h1.7v1.7h-1.7zM166.5 413.6h1.7v1.7h-1.7zM169.2 413.2h1.7v1.7h-1.7zM169.3 414.7h1.7v1.7h-1.7zM176.9 413.9h1.7v1.7h-1.7zM169.1 414.9h1.7v1.7h-1.7zM171.2 405.3h1.7v1.7h-1.7zM169.5 416.4h1.7v1.7h-1.7zM173.7 417.4h1.7v1.7h-1.7zM173.0 404.8h1.7v1.7h-1.7zM172.1 416.6h1.7v1.7h-1.7zM171.6 414.7h1.7v1.7h-1.7zM167.9 417.4h1.7v1.7h-1.7zM167.7 416.5h1.7v1.7h-1.7zM170.9 416.5h1.7v1.7h-1.7zM169.0 417.6h1.7v1.7h-1.7zM172.5 410.3h1.7v1.7h-1.7zM173.2 414.4h1.7v1.7h-1.7zM173.7 417.0h1.7v1.7h-1.7zM174.4 415.4h1.7v1.7h-1.7zM172.5 414.0h1.7v1.7h-1.7zM171.6 416.4h1.7v1.7h-1.7zM169.0 416.9h1.7v1.7h-1.7zM172.1 415.9h1.7v1.7h-1.7zM172.9 417.9h1.7v1.7h-1.7zM170.2 409.6h1.7v1.7h-1.7zM168.9 414.5h1.7v1.7h-1.7zM171.9 416.5h1.7v1.7h-1.7zM177.6 416.5h1.7v1.7h-1.7zM175.1 417.2h1.7v1.7h-1.7zM166.9 409.3h1.7v1.7h-1.7zM171.3 417.7h1.7v1.7h-1.7zM170.6 415.5h1.7v1.7h-1.7zM174.7 417.5h1.7v1.7h-1.7zM168.8 404.5h1.7v1.7h-1.7zM174.7 417.2h1.7v1.7h-1.7zM170.1 416.1h1.7v1.7h-1.7zM174.0 413.9h1.7v1.7h-1.7zM176.0 410.7h1.7v1.7h-1.7zM172.2 412.3h1.7v1.7h-1.7zM174.8 412.0h1.7v1.7h-1.7zM171.7 411.5h1.7v1.7h-1.7zM174.4 407.6h1.7v1.7h-1.7zM167.6 409.4h1.7v1.7h-1.7zM166.2 411.9h1.7v1.7h-1.7zM172.9 415.1h1.7v1.7h-1.7zM177.3 414.4h1.7v1.7h-1.7zM171.0 411.5h1.7v1.7h-1.7zM176.3 414.0h1.7v1.7h-1.7zM170.6 415.4h1.7v1.7h-1.7zM171.5 412.6h1.7v1.7h-1.7zM169.5 415.9h1.7v1.7h-1.7zM172.6 415.9h1.7v1.7h-1.7zM169.9 411.5h1.7v1.7h-1.7zM176.0 415.0h1.7v1.7h-1.7zM171.3 417.1h1.7v1.7h-1.7zM169.7 417.3h1.7v1.7h-1.7zM172.8 414.3h1.7v1.7h-1.7zM167.2 407.3h1.7v1.7h-1.7zM169.9 410.2h1.7v1.7h-1.7zM175.9 404.6h1.7v1.7h-1.7zM168.5 415.6h1.7v1.7h-1.7zM176.7 417.9h1.7v1.7h-1.7zM166.7 414.5h1.7v1.7h-1.7zM171.9 407.3h1.7v1.7h-1.7zM175.1 414.7h1.7v1.7h-1.7zM177.7 414.9h1.7v1.7h-1.7zM172.2 413.1h1.7v1.7h-1.7zM170.7 416.1h1.7v1.7h-1.7zM173.0 416.1h1.7v1.7h-1.7zM177.1 413.2h1.7v1.7h-1.7zM172.2 417.5h1.7v1.7h-1.7zM170.5 415.8h1.7v1.7h-1.7zM172.7 414.4h1.7v1.7h-1.7zM176.4 403.9h1.7v1.7h-1.7zM171.8 415.5h1.7v1.7h-1.7zM173.4 412.8h1.7v1.7h-1.7zM172.3 410.8h1.7v1.7h-1.7zM168.1 416.3h1.7v1.7h-1.7zM177.5 410.6h1.7v1.7h-1.7zM172.1 417.5h1.7v1.7h-1.7zM176.5 413.0h1.7v1.7h-1.7zM175.7 404.6h1.7v1.7h-1.7zM171.0 417.2h1.7v1.7h-1.7zM169.5 414.9h1.7v1.7h-1.7zM172.0 417.1h1.7v1.7h-1.7zM168.3 413.8h1.7v1.7h-1.7zM173.1 416.1h1.7v1.7h-1.7zM177.7 413.7h1.7v1.7h-1.7zM166.6 415.7h1.7v1.7h-1.7zM175.3 416.4h1.7v1.7h-1.7zM174.2 417.9h1.7v1.7h-1.7zM169.7 410.2h1.7v1.7h-1.7zM172.9 413.3h1.7v1.7h-1.7zM168.4 415.1h1.7v1.7h-1.7zM172.6 416.7h1.7v1.7h-1.7zM173.7 414.8h1.7v1.7h-1.7zM177.7 414.4h1.7v1.7h-1.7zM170.9 417.4h1.7v1.7h-1.7zM168.0 412.0h1.7v1.7h-1.7zM167.4 417.5h1.7v1.7h-1.7zM168.1 414.8h1.7v1.7h-1.7zM175.7 414.0h1.7v1.7h-1.7zM175.5 417.7h1.7v1.7h-1.7zM166.3 411.8h1.7v1.7h-1.7zM169.9 412.7h1.7v1.7h-1.7zM170.3 417.2h1.7v1.7h-1.7zM169.2 417.5h1.7v1.7h-1.7zM176.6 414.3h1.7v1.7h-1.7zM170.2 415.4h1.7v1.7h-1.7zM170.6 417.7h1.7v1.7h-1.7zM176.5 414.3h1.7v1.7h-1.7zM177.3 415.5h1.7v1.7h-1.7zM173.3 416.7h1.7v1.7h-1.7zM166.7 406.7h1.7v1.7h-1.7zM176.1 416.4h1.7v1.7h-1.7zM176.6 410.8h1.7v1.7h-1.7zM169.7 414.1h1.7v1.7h-1.7zM177.3 415.1h1.7v1.7h-1.7zM177.2 416.8h1.7v1.7h-1.7zM170.7 412.6h1.7v1.7h-1.7zM168.7 416.4h1.7v1.7h-1.7zM176.3 415.2h1.7v1.7h-1.7zM175.3 416.8h1.7v1.7h-1.7zM168.2 416.1h1.7v1.7h-1.7zM168.3 403.0h1.7v1.7h-1.7zM169.5 414.5h1.7v1.7h-1.7zM167.5 414.7h1.7v1.7h-1.7zM170.6 415.8h1.7v1.7h-1.7zM166.9 417.4h1.7v1.7h-1.7zM175.7 416.1h1.7v1.7h-1.7zM169.0 417.1h1.7v1.7h-1.7zM169.4 416.8h1.7v1.7h-1.7zM166.6 413.4h1.7v1.7h-1.7zM170.1 417.2h1.7v1.7h-1.7zM174.3 417.5h1.7v1.7h-1.7zM169.3 410.4h1.7v1.7h-1.7zM167.6 415.5h1.7v1.7h-1.7zM175.9 411.1h1.7v1.7h-1.7zM168.0 416.1h1.7v1.7h-1.7zM174.5 416.0h1.7v1.7h-1.7zM177.3 417.0h1.7v1.7h-1.7zM177.2 415.0h1.7v1.7h-1.7zM168.8 415.4h1.7v1.7h-1.7zM167.7 412.8h1.7v1.7h-1.7zM169.2 408.3h1.7v1.7h-1.7zM173.0 416.0h1.7v1.7h-1.7zM169.0 414.0h1.7v1.7h-1.7zM168.6 409.3h1.7v1.7h-1.7zM167.6 414.9h1.7v1.7h-1.7zM172.4 416.6h1.7v1.7h-1.7zM175.1 415.9h1.7v1.7h-1.7zM173.8 414.4h1.7v1.7h-1.7zM169.8 415.9h1.7v1.7h-1.7zM167.1 417.1h1.7v1.7h-1.7zM176.0 416.3h1.7v1.7h-1.7zM173.8 417.5h1.7v1.7h-1.7zM172.7 416.1h1.7v1.7h-1.7zM172.0 416.5h1.7v1.7h-1.7zM166.9 416.4h1.7v1.7h-1.7zM168.8 417.4h1.7v1.7h-1.7zM174.5 416.6h1.7v1.7h-1.7zM170.8 407.9h1.7v1.7h-1.7zM175.1 408.9h1.7v1.7h-1.7zM176.1 417.4h1.7v1.7h-1.7zM169.4 417.8h1.7v1.7h-1.7zM174.0 413.4h1.7v1.7h-1.7zM170.2 415.7h1.7v1.7h-1.7zM173.8 412.9h1.7v1.7h-1.7zM169.0 410.1h1.7v1.7h-1.7zM170.2 413.8h1.7v1.7h-1.7zM168.3 417.4h1.7v1.7h-1.7zM176.7 412.4h1.7v1.7h-1.7zM174.4 417.8h1.7v1.7h-1.7zM166.6 417.2h1.7v1.7h-1.7zM168.4 416.4h1.7v1.7h-1.7zM170.6 417.8h1.7v1.7h-1.7zM169.8 413.7h1.7v1.7h-1.7zM168.2 410.3h1.7v1.7h-1.7zM172.8 412.7h1.7v1.7h-1.7zM169.1 415.6h1.7v1.7h-1.7zM174.1 416.1h1.7v1.7h-1.7zM166.2 410.4h1.7v1.7h-1.7zM175.2 416.5h1.7v1.7h-1.7zM166.6 409.9h1.7v1.7h-1.7zM173.2 417.7h1.7v1.7h-1.7zM169.0 417.5h1.7v1.7h-1.7zM175.3 417.0h1.7v1.7h-1.7zM176.8 412.1h1.7v1.7h-1.7zM167.1 413.0h1.7v1.7h-1.7zM170.7 412.2h1.7v1.7h-1.7zM175.8 416.6h1.7v1.7h-1.7zM167.2 405.7h1.7v1.7h-1.7zM171.1 406.8h1.7v1.7h-1.7zM174.2 412.3h1.7v1.7h-1.7zM175.8 413.8h1.7v1.7h-1.7zM171.4 417.7h1.7v1.7h-1.7zM174.2 415.6h1.7v1.7h-1.7zM172.1 406.9h1.7v1.7h-1.7zM167.6 411.9h1.7v1.7h-1.7zM166.7 412.9h1.7v1.7h-1.7zM175.5 416.7h1.7v1.7h-1.7zM172.5 403.3h1.7v1.7h-1.7zM173.5 414.7h1.7v1.7h-1.7zM169.0 417.7h1.7v1.7h-1.7zM170.3 415.7h1.7v1.7h-1.7zM168.5 416.4h1.7v1.7h-1.7zM167.7 412.8h1.7v1.7h-1.7zM173.9 416.8h1.7v1.7h-1.7zM169.0 414.9h1.7v1.7h-1.7zM171.3 406.4h1.7v1.7h-1.7zM170.2 416.5h1.7v1.7h-1.7zM176.4 417.3h1.7v1.7h-1.7zM172.7 416.2h1.7v1.7h-1.7zM175.6 414.6h1.7v1.7h-1.7zM175.0 417.2h1.7v1.7h-1.7zM173.9 414.1h1.7v1.7h-1.7zM171.5 411.8h1.7v1.7h-1.7zM175.8 417.4h1.7v1.7h-1.7zM169.5 416.1h1.7v1.7h-1.7zM168.5 417.7h1.7v1.7h-1.7zM169.4 417.0h1.7v1.7h-1.7zM174.3 415.5h1.7v1.7h-1.7zM167.5 416.3h1.7v1.7h-1.7zM171.6 416.1h1.7v1.7h-1.7zM168.1 417.6h1.7v1.7h-1.7zM166.3 406.7h1.7v1.7h-1.7zM167.1 412.6h1.7v1.7h-1.7zM177.5 414.5h1.7v1.7h-1.7zM167.4 415.1h1.7v1.7h-1.7zM171.2 417.1h1.7v1.7h-1.7zM172.4 417.9h1.7v1.7h-1.7zM176.8 413.6h1.7v1.7h-1.7zM173.4 406.5h1.7v1.7h-1.7zM173.7 416.7h1.7v1.7h-1.7zM169.0 417.3h1.7v1.7h-1.7zM166.5 411.7h1.7v1.7h-1.7zM175.9 416.5h1.7v1.7h-1.7zM168.3 413.7h1.7v1.7h-1.7zM176.0 407.0h1.7v1.7h-1.7zM168.1 411.5h1.7v1.7h-1.7zM175.8 412.3h1.7v1.7h-1.7zM169.9 417.1h1.7v1.7h-1.7zM175.7 416.3h1.7v1.7h-1.7zM170.4 414.6h1.7v1.7h-1.7zM170.4 410.5h1.7v1.7h-1.7zM168.9 417.8h1.7v1.7h-1.7zM172.7 413.8h1.7v1.7h-1.7zM175.7 412.8h1.7v1.7h-1.7zM176.7 405.8h1.7v1.7h-1.7zM171.9 415.0h1.7v1.7h-1.7zM168.0 416.5h1.7v1.7h-1.7zM172.9 417.6h1.7v1.7h-1.7zM174.1 417.2h1.7v1.7h-1.7zM171.3 403.2h1.7v1.7h-1.7zM167.2 417.8h1.7v1.7h-1.7zM171.2 417.1h1.7v1.7h-1.7zM174.5 417.9h1.7v1.7h-1.7zM175.9 409.8h1.7v1.7h-1.7zM175.3 415.6h1.7v1.7h-1.7zM169.4 413.4h1.7v1.7h-1.7zM172.1 415.7h1.7v1.7h-1.7zM170.1 415.5h1.7v1.7h-1.7zM173.9 410.6h1.7v1.7h-1.7zM176.6 417.2h1.7v1.7h-1.7zM169.6 415.5h1.7v1.7h-1.7zM172.7 416.2h1.7v1.7h-1.7zM168.4 417.6h1.7v1.7h-1.7zM169.9 415.4h1.7v1.7h-1.7zM177.4 407.9h1.7v1.7h-1.7zM176.2 403.5h1.7v1.7h-1.7zM173.3 410.9h1.7v1.7h-1.7zM166.8 413.2h1.7v1.7h-1.7zM173.2 416.5h1.7v1.7h-1.7zM172.8 405.1h1.7v1.7h-1.7zM171.7 413.6h1.7v1.7h-1.7zM169.6 416.2h1.7v1.7h-1.7zM176.4 417.8h1.7v1.7h-1.7zM168.3 413.2h1.7v1.7h-1.7zM171.3 417.6h1.7v1.7h-1.7zM173.8 416.0h1.7v1.7h-1.7zM172.9 415.7h1.7v1.7h-1.7zM172.3 414.5h1.7v1.7h-1.7zM170.7 417.4h1.7v1.7h-1.7zM168.2 408.7h1.7v1.7h-1.7zM172.5 417.4h1.7v1.7h-1.7zM176.2 416.7h1.7v1.7h-1.7zM167.3 414.8h1.7v1.7h-1.7zM169.1 415.1h1.7v1.7h-1.7zM172.6 416.9h1.7v1.7h-1.7zM172.8 417.4h1.7v1.7h-1.7zM172.1 414.2h1.7v1.7h-1.7zM167.1 415.7h1.7v1.7h-1.7zM167.0 415.5h1.7v1.7h-1.7zM176.2 414.6h1.7v1.7h-1.7zM174.4 412.0h1.7v1.7h-1.7zM167.5 407.1h1.7v1.7h-1.7zM167.3 410.5h1.7v1.7h-1.7zM170.7 417.2h1.7v1.7h-1.7zM176.7 413.0h1.7v1.7h-1.7zM174.4 417.1h1.7v1.7h-1.7zM174.5 417.6h1.7v1.7h-1.7zM168.0 415.2h1.7v1.7h-1.7zM165.3 412.5h1.7v1.7h-1.7zM167.7 415.8h1.7v1.7h-1.7zM173.6 414.6h1.7v1.7h-1.7zM175.8 412.1h1.7v1.7h-1.7zM175.6 413.0h1.7v1.7h-1.7zM176.2 405.7h1.7v1.7h-1.7zM167.2 409.7h1.7v1.7h-1.7zM169.2 409.3h1.7v1.7h-1.7zM173.3 407.5h1.7v1.7h-1.7zM166.6 415.1h1.7v1.7h-1.7zM174.0 400.2h1.7v1.7h-1.7zM173.8 417.7h1.7v1.7h-1.7zM172.4 417.3h1.7v1.7h-1.7zM171.7 408.2h1.7v1.7h-1.7zM166.5 402.4h1.7v1.7h-1.7zM173.3 416.2h1.7v1.7h-1.7zM167.5 414.4h1.7v1.7h-1.7zM175.2 412.7h1.7v1.7h-1.7zM166.5 417.8h1.7v1.7h-1.7zM166.5 408.3h1.7v1.7h-1.7zM167.4 413.1h1.7v1.7h-1.7zM168.6 411.0h1.7v1.7h-1.7zM169.7 417.0h1.7v1.7h-1.7zM175.7 413.3h1.7v1.7h-1.7zM173.4 408.0h1.7v1.7h-1.7zM176.5 417.9h1.7v1.7h-1.7zM169.3 417.0h1.7v1.7h-1.7zM171.2 405.6h1.7v1.7h-1.7zM174.8 417.7h1.7v1.7h-1.7zM167.3 407.7h1.7v1.7h-1.7zM173.3 415.0h1.7v1.7h-1.7zM170.9 416.9h1.7v1.7h-1.7zM175.3 415.0h1.7v1.7h-1.7zM175.6 412.3h1.7v1.7h-1.7zM166.1 415.6h1.7v1.7h-1.7zM167.7 404.5h1.7v1.7h-1.7zM191.3 417.8h1.7v1.7h-1.7zM185.3 416.5h1.7v1.7h-1.7zM189.5 415.2h1.7v1.7h-1.7zM188.4 416.6h1.7v1.7h-1.7zM182.9 415.2h1.7v1.7h-1.7zM187.6 417.9h1.7v1.7h-1.7zM189.4 417.4h1.7v1.7h-1.7zM184.9 414.4h1.7v1.7h-1.7zM186.7 416.9h1.7v1.7h-1.7zM190.0 417.0h1.7v1.7h-1.7zM191.0 415.5h1.7v1.7h-1.7zM196.5 417.5h1.7v1.7h-1.7zM190.9 413.2h1.7v1.7h-1.7zM195.3 413.2h1.7v1.7h-1.7zM191.9 414.7h1.7v1.7h-1.7zM188.0 416.9h1.7v1.7h-1.7zM194.2 411.4h1.7v1.7h-1.7zM196.3 414.3h1.7v1.7h-1.7zM187.2 413.3h1.7v1.7h-1.7zM193.4 415.7h1.7v1.7h-1.7zM191.9 416.6h1.7v1.7h-1.7zM190.7 416.3h1.7v1.7h-1.7zM183.7 416.6h1.7v1.7h-1.7zM187.5 411.7h1.7v1.7h-1.7zM188.1 417.1h1.7v1.7h-1.7zM186.2 416.6h1.7v1.7h-1.7zM184.8 417.9h1.7v1.7h-1.7zM195.3 416.0h1.7v1.7h-1.7zM189.2 415.3h1.7v1.7h-1.7zM187.2 417.4h1.7v1.7h-1.7zM183.8 416.8h1.7v1.7h-1.7zM187.3 413.8h1.7v1.7h-1.7zM190.7 409.1h1.7v1.7h-1.7zM187.7 409.8h1.7v1.7h-1.7zM191.2 417.7h1.7v1.7h-1.7zM185.4 415.2h1.7v1.7h-1.7zM197.0 416.5h1.7v1.7h-1.7zM193.9 416.2h1.7v1.7h-1.7zM195.3 417.7h1.7v1.7h-1.7zM189.8 410.6h1.7v1.7h-1.7zM186.8 417.0h1.7v1.7h-1.7zM183.2 417.4h1.7v1.7h-1.7zM186.7 414.1h1.7v1.7h-1.7zM186.0 416.3h1.7v1.7h-1.7zM185.7 415.0h1.7v1.7h-1.7zM195.2 414.6h1.7v1.7h-1.7zM185.7 413.7h1.7v1.7h-1.7zM196.6 415.0h1.7v1.7h-1.7zM184.0 412.6h1.7v1.7h-1.7zM195.4 416.6h1.7v1.7h-1.7zM184.8 417.3h1.7v1.7h-1.7zM190.5 411.3h1.7v1.7h-1.7zM192.0 409.8h1.7v1.7h-1.7zM185.9 416.7h1.7v1.7h-1.7zM193.6 414.6h1.7v1.7h-1.7zM188.6 414.3h1.7v1.7h-1.7zM187.7 417.8h1.7v1.7h-1.7zM188.8 417.8h1.7v1.7h-1.7zM191.8 416.6h1.7v1.7h-1.7zM189.9 415.0h1.7v1.7h-1.7zM186.5 416.0h1.7v1.7h-1.7zM183.0 409.6h1.7v1.7h-1.7zM190.9 417.2h1.7v1.7h-1.7zM191.6 413.8h1.7v1.7h-1.7zM187.6 417.6h1.7v1.7h-1.7zM185.1 417.5h1.7v1.7h-1.7zM193.8 417.6h1.7v1.7h-1.7zM194.5 416.2h1.7v1.7h-1.7zM190.6 415.1h1.7v1.7h-1.7zM190.8 414.5h1.7v1.7h-1.7zM191.5 416.7h1.7v1.7h-1.7zM193.4 417.0h1.7v1.7h-1.7zM193.0 413.3h1.7v1.7h-1.7zM193.9 416.8h1.7v1.7h-1.7zM193.9 405.8h1.7v1.7h-1.7zM189.3 416.9h1.7v1.7h-1.7zM190.3 408.9h1.7v1.7h-1.7zM184.7 417.9h1.7v1.7h-1.7zM189.7 414.5h1.7v1.7h-1.7zM193.9 416.5h1.7v1.7h-1.7zM197.0 417.1h1.7v1.7h-1.7zM193.7 417.6h1.7v1.7h-1.7zM183.2 417.5h1.7v1.7h-1.7zM183.7 415.7h1.7v1.7h-1.7zM190.8 417.3h1.7v1.7h-1.7zM196.3 416.5h1.7v1.7h-1.7zM185.0 417.3h1.7v1.7h-1.7zM193.4 409.8h1.7v1.7h-1.7zM185.2 417.9h1.7v1.7h-1.7zM194.0 417.1h1.7v1.7h-1.7zM196.9 415.7h1.7v1.7h-1.7zM191.9 416.6h1.7v1.7h-1.7zM194.3 416.0h1.7v1.7h-1.7zM187.5 410.5h1.7v1.7h-1.7zM184.4 413.7h1.7v1.7h-1.7zM183.8 414.6h1.7v1.7h-1.7zM188.6 411.6h1.7v1.7h-1.7zM183.7 415.3h1.7v1.7h-1.7zM188.7 409.9h1.7v1.7h-1.7zM196.4 414.8h1.7v1.7h-1.7zM186.1 417.0h1.7v1.7h-1.7zM186.6 416.1h1.7v1.7h-1.7zM186.2 417.2h1.7v1.7h-1.7zM193.7 414.7h1.7v1.7h-1.7zM187.1 415.1h1.7v1.7h-1.7zM191.0 417.4h1.7v1.7h-1.7zM195.2 411.4h1.7v1.7h-1.7zM186.7 413.5h1.7v1.7h-1.7zM194.6 416.9h1.7v1.7h-1.7zM187.6 415.8h1.7v1.7h-1.7zM195.6 417.4h1.7v1.7h-1.7zM192.6 415.0h1.7v1.7h-1.7zM189.3 415.2h1.7v1.7h-1.7zM195.5 417.2h1.7v1.7h-1.7zM195.5 416.5h1.7v1.7h-1.7zM194.0 411.6h1.7v1.7h-1.7zM185.5 411.6h1.7v1.7h-1.7zM197.1 416.8h1.7v1.7h-1.7zM183.2 417.6h1.7v1.7h-1.7zM196.8 417.9h1.7v1.7h-1.7zM195.9 417.4h1.7v1.7h-1.7zM193.4 417.6h1.7v1.7h-1.7zM185.3 414.3h1.7v1.7h-1.7zM184.1 416.6h1.7v1.7h-1.7zM196.0 413.9h1.7v1.7h-1.7zM195.5 405.5h1.7v1.7h-1.7zM183.3 417.1h1.7v1.7h-1.7zM194.2 414.2h1.7v1.7h-1.7zM183.4 415.7h1.7v1.7h-1.7zM186.2 416.1h1.7v1.7h-1.7zM184.3 417.9h1.7v1.7h-1.7zM197.0 416.7h1.7v1.7h-1.7zM195.4 417.5h1.7v1.7h-1.7zM189.8 417.5h1.7v1.7h-1.7zM189.0 417.3h1.7v1.7h-1.7zM192.7 417.4h1.7v1.7h-1.7zM193.4 415.7h1.7v1.7h-1.7zM184.5 416.6h1.7v1.7h-1.7zM189.9 409.9h1.7v1.7h-1.7zM187.8 417.2h1.7v1.7h-1.7zM196.7 411.1h1.7v1.7h-1.7zM193.3 416.9h1.7v1.7h-1.7zM185.4 417.0h1.7v1.7h-1.7zM183.8 417.8h1.7v1.7h-1.7zM190.1 416.3h1.7v1.7h-1.7zM190.8 416.5h1.7v1.7h-1.7zM183.0 414.2h1.7v1.7h-1.7zM192.2 415.4h1.7v1.7h-1.7zM190.7 414.2h1.7v1.7h-1.7zM196.9 411.3h1.7v1.7h-1.7zM193.1 416.3h1.7v1.7h-1.7zM187.4 416.2h1.7v1.7h-1.7zM196.8 416.4h1.7v1.7h-1.7zM188.4 416.3h1.7v1.7h-1.7zM184.9 417.9h1.7v1.7h-1.7zM191.5 409.6h1.7v1.7h-1.7zM186.5 414.9h1.7v1.7h-1.7zM188.2 417.1h1.7v1.7h-1.7zM185.7 417.6h1.7v1.7h-1.7zM194.9 413.0h1.7v1.7h-1.7zM195.8 417.8h1.7v1.7h-1.7zM192.8 416.7h1.7v1.7h-1.7zM192.1 415.4h1.7v1.7h-1.7zM187.4 406.6h1.7v1.7h-1.7zM182.9 413.6h1.7v1.7h-1.7zM195.1 415.7h1.7v1.7h-1.7zM191.3 414.9h1.7v1.7h-1.7zM191.9 413.6h1.7v1.7h-1.7zM188.3 414.0h1.7v1.7h-1.7zM188.5 415.6h1.7v1.7h-1.7zM191.6 414.3h1.7v1.7h-1.7zM187.5 414.8h1.7v1.7h-1.7zM190.6 417.1h1.7v1.7h-1.7zM191.6 417.0h1.7v1.7h-1.7zM195.8 415.9h1.7v1.7h-1.7zM193.2 415.6h1.7v1.7h-1.7zM189.7 417.1h1.7v1.7h-1.7zM184.9 409.6h1.7v1.7h-1.7zM190.4 415.6h1.7v1.7h-1.7zM190.4 412.6h1.7v1.7h-1.7zM186.3 417.3h1.7v1.7h-1.7zM194.6 416.0h1.7v1.7h-1.7zM192.0 412.3h1.7v1.7h-1.7zM195.6 411.5h1.7v1.7h-1.7zM183.5 416.4h1.7v1.7h-1.7zM194.7 412.5h1.7v1.7h-1.7zM184.6 417.4h1.7v1.7h-1.7zM186.4 417.6h1.7v1.7h-1.7zM188.0 412.7h1.7v1.7h-1.7zM190.3 416.0h1.7v1.7h-1.7zM184.1 416.3h1.7v1.7h-1.7zM197.1 414.2h1.7v1.7h-1.7zM189.3 415.9h1.7v1.7h-1.7zM194.3 413.4h1.7v1.7h-1.7zM185.0 414.3h1.7v1.7h-1.7zM188.1 415.6h1.7v1.7h-1.7zM186.2 416.5h1.7v1.7h-1.7zM187.7 416.4h1.7v1.7h-1.7zM183.1 417.2h1.7v1.7h-1.7zM191.0 417.8h1.7v1.7h-1.7zM185.4 413.9h1.7v1.7h-1.7zM186.8 416.7h1.7v1.7h-1.7zM186.3 412.2h1.7v1.7h-1.7zM184.2 414.7h1.7v1.7h-1.7zM195.1 417.2h1.7v1.7h-1.7zM188.9 412.9h1.7v1.7h-1.7zM191.7 416.5h1.7v1.7h-1.7zM183.5 416.1h1.7v1.7h-1.7zM188.1 414.0h1.7v1.7h-1.7zM187.1 416.3h1.7v1.7h-1.7zM192.1 412.6h1.7v1.7h-1.7zM187.9 416.4h1.7v1.7h-1.7zM191.1 409.7h1.7v1.7h-1.7zM185.6 406.6h1.7v1.7h-1.7zM193.0 416.5h1.7v1.7h-1.7zM192.4 416.7h1.7v1.7h-1.7zM183.9 413.4h1.7v1.7h-1.7zM188.3 415.6h1.7v1.7h-1.7zM190.0 410.5h1.7v1.7h-1.7zM193.7 417.9h1.7v1.7h-1.7zM191.3 416.0h1.7v1.7h-1.7zM189.5 412.1h1.7v1.7h-1.7zM188.8 415.9h1.7v1.7h-1.7zM195.6 416.1h1.7v1.7h-1.7zM189.9 415.7h1.7v1.7h-1.7zM194.6 414.4h1.7v1.7h-1.7zM193.4 416.3h1.7v1.7h-1.7zM183.4 414.3h1.7v1.7h-1.7zM190.8 413.3h1.7v1.7h-1.7zM193.9 417.5h1.7v1.7h-1.7zM186.0 417.7h1.7v1.7h-1.7zM194.5 417.6h1.7v1.7h-1.7zM184.1 413.5h1.7v1.7h-1.7zM190.9 417.8h1.7v1.7h-1.7zM192.6 414.0h1.7v1.7h-1.7zM189.8 417.8h1.7v1.7h-1.7zM192.7 416.2h1.7v1.7h-1.7zM191.2 407.3h1.7v1.7h-1.7zM195.3 417.4h1.7v1.7h-1.7zM187.6 415.6h1.7v1.7h-1.7zM182.9 414.4h1.7v1.7h-1.7zM186.6 416.7h1.7v1.7h-1.7zM186.5 411.7h1.7v1.7h-1.7zM190.8 415.7h1.7v1.7h-1.7zM188.9 417.8h1.7v1.7h-1.7zM187.2 411.5h1.7v1.7h-1.7zM194.3 411.7h1.7v1.7h-1.7zM186.5 417.2h1.7v1.7h-1.7zM183.6 415.5h1.7v1.7h-1.7zM188.2 416.0h1.7v1.7h-1.7zM189.8 415.1h1.7v1.7h-1.7zM188.1 412.8h1.7v1.7h-1.7zM185.7 409.9h1.7v1.7h-1.7zM190.8 417.8h1.7v1.7h-1.7zM187.3 415.5h1.7v1.7h-1.7zM188.7 415.3h1.7v1.7h-1.7zM187.5 416.9h1.7v1.7h-1.7zM194.2 416.8h1.7v1.7h-1.7zM193.0 412.8h1.7v1.7h-1.7zM191.3 416.0h1.7v1.7h-1.7zM196.2 416.1h1.7v1.7h-1.7zM195.4 417.8h1.7v1.7h-1.7zM189.1 414.7h1.7v1.7h-1.7zM183.6 411.6h1.7v1.7h-1.7zM183.9 415.0h1.7v1.7h-1.7zM185.4 409.8h1.7v1.7h-1.7zM190.9 412.8h1.7v1.7h-1.7zM190.0 414.4h1.7v1.7h-1.7zM192.5 416.8h1.7v1.7h-1.7zM185.9 412.1h1.7v1.7h-1.7zM184.9 410.0h1.7v1.7h-1.7zM185.8 417.6h1.7v1.7h-1.7zM184.2 413.0h1.7v1.7h-1.7zM196.4 416.2h1.7v1.7h-1.7zM192.3 417.0h1.7v1.7h-1.7zM195.8 414.2h1.7v1.7h-1.7zM185.1 417.8h1.7v1.7h-1.7zM192.8 417.8h1.7v1.7h-1.7zM194.8 416.8h1.7v1.7h-1.7zM186.2 415.2h1.7v1.7h-1.7zM187.4 415.3h1.7v1.7h-1.7zM185.1 410.2h1.7v1.7h-1.7zM187.5 412.1h1.7v1.7h-1.7zM185.0 412.8h1.7v1.7h-1.7zM196.9 416.4h1.7v1.7h-1.7zM183.3 416.4h1.7v1.7h-1.7zM192.0 417.1h1.7v1.7h-1.7zM190.7 417.6h1.7v1.7h-1.7zM189.5 413.8h1.7v1.7h-1.7zM189.0 414.3h1.7v1.7h-1.7zM184.5 412.3h1.7v1.7h-1.7zM184.6 409.7h1.7v1.7h-1.7zM197.1 409.0h1.7v1.7h-1.7zM190.4 416.9h1.7v1.7h-1.7zM187.8 413.5h1.7v1.7h-1.7zM190.0 409.4h1.7v1.7h-1.7zM184.2 415.8h1.7v1.7h-1.7zM195.2 415.0h1.7v1.7h-1.7zM190.6 417.7h1.7v1.7h-1.7zM184.8 416.9h1.7v1.7h-1.7zM195.6 412.0h1.7v1.7h-1.7zM186.1 409.7h1.7v1.7h-1.7zM183.3 415.0h1.7v1.7h-1.7zM196.7 416.6h1.7v1.7h-1.7zM196.4 414.5h1.7v1.7h-1.7zM183.6 416.7h1.7v1.7h-1.7zM189.3 417.0h1.7v1.7h-1.7zM193.5 417.3h1.7v1.7h-1.7zM194.1 416.8h1.7v1.7h-1.7zM183.8 415.3h1.7v1.7h-1.7zM184.2 415.4h1.7v1.7h-1.7zM194.1 415.1h1.7v1.7h-1.7zM189.4 417.8h1.7v1.7h-1.7zM190.2 417.6h1.7v1.7h-1.7zM192.1 417.5h1.7v1.7h-1.7zM191.1 416.6h1.7v1.7h-1.7zM188.2 414.5h1.7v1.7h-1.7zM185.2 417.4h1.7v1.7h-1.7zM196.3 416.7h1.7v1.7h-1.7zM194.9 411.3h1.7v1.7h-1.7zM189.7 417.4h1.7v1.7h-1.7zM184.2 411.2h1.7v1.7h-1.7zM184.5 415.8h1.7v1.7h-1.7zM190.5 417.5h1.7v1.7h-1.7zM189.5 417.4h1.7v1.7h-1.7zM190.5 415.7h1.7v1.7h-1.7zM188.1 417.2h1.7v1.7h-1.7zM188.6 417.2h1.7v1.7h-1.7zM184.7 417.1h1.7v1.7h-1.7zM195.3 415.7h1.7v1.7h-1.7zM195.6 417.9h1.7v1.7h-1.7zM196.3 415.8h1.7v1.7h-1.7zM194.2 415.2h1.7v1.7h-1.7zM192.7 417.1h1.7v1.7h-1.7zM193.6 417.4h1.7v1.7h-1.7zM186.6 417.8h1.7v1.7h-1.7zM188.5 415.6h1.7v1.7h-1.7zM187.0 410.9h1.7v1.7h-1.7zM184.1 415.2h1.7v1.7h-1.7zM186.2 415.1h1.7v1.7h-1.7zM194.1 414.0h1.7v1.7h-1.7zM183.7 417.0h1.7v1.7h-1.7zM191.4 417.4h1.7v1.7h-1.7zM191.7 414.2h1.7v1.7h-1.7zM194.5 416.6h1.7v1.7h-1.7zM194.4 416.0h1.7v1.7h-1.7zM196.0 417.9h1.7v1.7h-1.7zM196.3 416.3h1.7v1.7h-1.7zM188.7 417.7h1.7v1.7h-1.7zM186.4 413.7h1.7v1.7h-1.7zM192.6 417.4h1.7v1.7h-1.7zM187.8 417.5h1.7v1.7h-1.7zM185.7 417.2h1.7v1.7h-1.7zM187.6 406.0h1.7v1.7h-1.7zM197.1 412.9h1.7v1.7h-1.7zM189.7 415.7h1.7v1.7h-1.7zM194.0 410.3h1.7v1.7h-1.7zM193.6 414.7h1.7v1.7h-1.7zM185.7 414.8h1.7v1.7h-1.7zM194.9 413.0h1.7v1.7h-1.7zM184.2 413.9h1.7v1.7h-1.7zM187.8 417.4h1.7v1.7h-1.7zM196.7 414.4h1.7v1.7h-1.7zM193.5 417.5h1.7v1.7h-1.7zM194.7 409.1h1.7v1.7h-1.7zM195.8 413.6h1.7v1.7h-1.7zM194.8 412.8h1.7v1.7h-1.7zM191.3 416.1h1.7v1.7h-1.7zM194.6 413.0h1.7v1.7h-1.7zM195.3 416.8h1.7v1.7h-1.7zM196.6 415.5h1.7v1.7h-1.7zM196.4 417.6h1.7v1.7h-1.7zM196.7 413.0h1.7v1.7h-1.7zM186.5 412.1h1.7v1.7h-1.7zM186.2 417.2h1.7v1.7h-1.7zM189.4 417.1h1.7v1.7h-1.7zM189.9 410.3h1.7v1.7h-1.7zM192.7 414.0h1.7v1.7h-1.7zM188.5 413.0h1.7v1.7h-1.7zM194.2 414.3h1.7v1.7h-1.7zM213.2 414.8h1.7v1.7h-1.7zM204.1 417.8h1.7v1.7h-1.7zM208.2 414.7h1.7v1.7h-1.7zM202.9 416.3h1.7v1.7h-1.7zM211.4 415.1h1.7v1.7h-1.7zM197.2 416.7h1.7v1.7h-1.7zM197.4 417.7h1.7v1.7h-1.7zM211.0 417.0h1.7v1.7h-1.7zM207.4 416.8h1.7v1.7h-1.7zM202.9 417.5h1.7v1.7h-1.7zM203.2 414.6h1.7v1.7h-1.7zM207.7 417.3h1.7v1.7h-1.7zM198.6 417.4h1.7v1.7h-1.7zM209.1 416.9h1.7v1.7h-1.7zM208.4 415.0h1.7v1.7h-1.7zM199.2 415.9h1.7v1.7h-1.7zM197.9 414.8h1.7v1.7h-1.7zM200.3 417.4h1.7v1.7h-1.7zM213.4 417.1h1.7v1.7h-1.7zM201.0 414.0h1.7v1.7h-1.7zM207.5 413.9h1.7v1.7h-1.7zM203.9 416.7h1.7v1.7h-1.7zM213.4 416.7h1.7v1.7h-1.7zM214.0 417.6h1.7v1.7h-1.7zM211.3 417.6h1.7v1.7h-1.7zM206.1 417.9h1.7v1.7h-1.7zM200.1 412.7h1.7v1.7h-1.7zM204.9 415.0h1.7v1.7h-1.7zM201.4 417.2h1.7v1.7h-1.7zM198.9 416.5h1.7v1.7h-1.7zM211.8 416.7h1.7v1.7h-1.7zM203.6 413.2h1.7v1.7h-1.7zM212.3 416.0h1.7v1.7h-1.7zM198.4 416.2h1.7v1.7h-1.7zM204.7 412.3h1.7v1.7h-1.7zM203.3 416.0h1.7v1.7h-1.7zM207.9 417.1h1.7v1.7h-1.7zM206.0 415.9h1.7v1.7h-1.7zM212.6 416.7h1.7v1.7h-1.7zM203.3 411.2h1.7v1.7h-1.7zM198.1 414.7h1.7v1.7h-1.7zM208.8 416.5h1.7v1.7h-1.7zM204.8 415.4h1.7v1.7h-1.7zM212.3 415.6h1.7v1.7h-1.7zM209.9 417.9h1.7v1.7h-1.7zM202.7 417.7h1.7v1.7h-1.7zM213.4 414.0h1.7v1.7h-1.7zM199.6 416.4h1.7v1.7h-1.7zM207.0 417.9h1.7v1.7h-1.7zM203.8 415.5h1.7v1.7h-1.7zM208.1 417.4h1.7v1.7h-1.7zM210.1 417.3h1.7v1.7h-1.7zM206.4 417.0h1.7v1.7h-1.7zM213.8 416.1h1.7v1.7h-1.7zM210.8 415.9h1.7v1.7h-1.7zM203.6 412.0h1.7v1.7h-1.7zM209.2 415.8h1.7v1.7h-1.7zM201.9 417.6h1.7v1.7h-1.7zM206.9 414.8h1.7v1.7h-1.7zM210.6 417.2h1.7v1.7h-1.7zM199.5 416.6h1.7v1.7h-1.7zM212.1 417.6h1.7v1.7h-1.7zM209.7 417.6h1.7v1.7h-1.7zM202.5 417.9h1.7v1.7h-1.7zM202.2 417.1h1.7v1.7h-1.7zM213.6 412.1h1.7v1.7h-1.7zM200.3 417.3h1.7v1.7h-1.7zM213.2 417.6h1.7v1.7h-1.7zM202.6 416.9h1.7v1.7h-1.7zM199.0 417.4h1.7v1.7h-1.7zM203.8 417.1h1.7v1.7h-1.7zM213.5 417.4h1.7v1.7h-1.7zM200.6 413.6h1.7v1.7h-1.7zM204.8 414.7h1.7v1.7h-1.7zM208.0 415.2h1.7v1.7h-1.7zM202.5 417.7h1.7v1.7h-1.7zM210.0 416.8h1.7v1.7h-1.7zM206.6 416.0h1.7v1.7h-1.7zM209.9 417.4h1.7v1.7h-1.7zM203.3 413.5h1.7v1.7h-1.7zM265.3 417.6h1.7v1.7h-1.7zM267.4 417.6h1.7v1.7h-1.7zM270.3 417.9h1.7v1.7h-1.7zM271.5 417.1h1.7v1.7h-1.7zM261.6 415.1h1.7v1.7h-1.7zM259.7 417.7h1.7v1.7h-1.7zM255.6 417.2h1.7v1.7h-1.7zM270.0 416.8h1.7v1.7h-1.7zM262.8 416.3h1.7v1.7h-1.7zM256.5 417.6h1.7v1.7h-1.7zM267.7 416.0h1.7v1.7h-1.7zM268.7 416.5h1.7v1.7h-1.7zM262.4 415.1h1.7v1.7h-1.7zM269.7 417.5h1.7v1.7h-1.7zM267.1 414.7h1.7v1.7h-1.7zM266.9 417.5h1.7v1.7h-1.7zM269.5 416.4h1.7v1.7h-1.7zM267.8 415.7h1.7v1.7h-1.7zM269.7 417.7h1.7v1.7h-1.7zM266.8 417.8h1.7v1.7h-1.7zM267.2 416.6h1.7v1.7h-1.7zM269.4 415.7h1.7v1.7h-1.7zM237.3 417.5h1.7v1.7h-1.7zM237.1 417.7h1.7v1.7h-1.7zM247.9 416.7h1.7v1.7h-1.7zM247.7 417.8h1.7v1.7h-1.7zM241.0 416.8h1.7v1.7h-1.7zM234.2 416.1h1.7v1.7h-1.7zM250.1 416.9h1.7v1.7h-1.7zM247.0 417.1h1.7v1.7h-1.7zM65.2 416.5h1.7v1.7h-1.7zM80.4 413.2h1.7v1.7h-1.7zM80.4 415.9h1.7v1.7h-1.7zM80.4 418.4h1.7v1.7h-1.7zM85.2 410.2h1.7v1.7h-1.7zM85.2 414.6h1.7v1.7h-1.7zM85.8 417.6h1.7v1.7h-1.7zM86.2 415.0h1.7v1.7h-1.7zM87.6 412.4h1.7v1.7h-1.7zM91.9 405.8h1.7v1.7h-1.7zM95.0 405.3h1.7v1.7h-1.7zM96.0 404.9h1.7v1.7h-1.7zM94.5 408.1h1.7v1.7h-1.7zM93.4 413.3h1.7v1.7h-1.7zM93.4 416.1h1.7v1.7h-1.7zM98.0 410.6h1.7v1.7h-1.7zM100.6 412.4h1.7v1.7h-1.7zM99.2 414.4h1.7v1.7h-1.7zM103.1 404.6h1.7v1.7h-1.7zM104.2 408.4h1.7v1.7h-1.7zM106.2 409.9h1.7v1.7h-1.7zM103.6 411.6h1.7v1.7h-1.7zM105.7 414.5h1.7v1.7h-1.7zM102.1 415.8h1.7v1.7h-1.7zM112.2 406.4h1.7v1.7h-1.7zM114.7 410.5h1.7v1.7h-1.7zM114.7 414.0h1.7v1.7h-1.7zM114.7 417.5h1.7v1.7h-1.7zM121.7 404.6h1.7v1.7h-1.7zM138.7 412.1h1.7v1.7h-1.7zM138.7 416.1h1.7v1.7h-1.7zM147.3 411.3h1.7v1.7h-1.7zM150.2 405.0h1.7v1.7h-1.7zM143.8 415.9h1.7v1.7h-1.7zM145.2 415.9h1.7v1.7h-1.7zM146.7 415.9h1.7v1.7h-1.7zM148.1 414.5h1.7v1.7h-1.7zM149.7 415.6h1.7v1.7h-1.7zM152.5 412.4h1.7v1.7h-1.7zM154.2 411.6h1.7v1.7h-1.7zM154.7 409.9h1.7v1.7h-1.7zM156.2 408.8h1.7v1.7h-1.7zM156.5 408.0h1.7v1.7h-1.7zM157.7 408.9h1.7v1.7h-1.7zM158.0 410.6h1.7v1.7h-1.7zM159.7 409.4h1.7v1.7h-1.7zM160.7 411.6h1.7v1.7h-1.7zM160.8 411.5h1.7v1.7h-1.7zM162.2 412.6h1.7v1.7h-1.7zM258.5 408.0h1.7v1.7h-1.7zM267.3 405.9h1.7v1.7h-1.7zM271.8 405.0h1.7v1.7h-1.7zM268.6 408.3h1.7v1.7h-1.7zM262.9 409.4h1.7v1.7h-1.7zM264.9 410.4h1.7v1.7h-1.7zM259.0 412.8h1.7v1.7h-1.7zM261.6 414.2h1.7v1.7h-1.7zM263.1 413.6h1.7v1.7h-1.7zM263.5 412.4h1.7v1.7h-1.7zM266.9 413.8h1.7v1.7h-1.7zM269.1 413.8h1.7v1.7h-1.7zM270.6 413.3h1.7v1.7h-1.7zM266.4 415.6h1.7v1.7h-1.7zM268.6 415.9h1.7v1.7h-1.7zM274.3 412.3h1.7v1.7h-1.7zM274.9 414.6h1.7v1.7h-1.7zM275.6 416.6h1.7v1.7h-1.7zM277.4 415.9h1.7v1.7h-1.7zM276.5 418.1h1.7v1.7h-1.7zM279.1 418.1h1.7v1.7h-1.7zM281.3 413.0h1.7v1.7h-1.7zM283.6 413.3h1.7v1.7h-1.7zM282.5 417.6h1.7v1.7h-1.7zM287.0 411.1h1.7v1.7h-1.7zM295.8 414.2h1.7v1.7h-1.7zM185.3 384.1h1.7v1.7h-1.7zM185.5 392.5h1.7v1.7h-1.7zM186.3 391.3h1.7v1.7h-1.7zM186.7 389.9h1.7v1.7h-1.7zM186.0 394.1h1.7v1.7h-1.7zM175.5 398.4h1.7v1.7h-1.7zM186.2 397.1h1.7v1.7h-1.7zM185.7 400.1h1.7v1.7h-1.7zM187.0 402.1h1.7v1.7h-1.7z" fill="#9a9a9a"/>
<path d="M161.0 252.7a1 1 0 1 0 2 0a1 1 0 1 0 -2 0zM165.4 262.6a1 1 0 1 0 2 0a1 1 0 1 0 -2 0zM157.7 272.4a1 1 0 1 0 2 0a1 1 0 1 0 -2 0zM162.8 275.7a1 1 0 1 0 2 0a1 1 0 1 0 -2 0zM167.4 279.7a1 1 0 1 0 2 0a1 1 0 1 0 -2 0zM164.1 283.2a1 1 0 1 0 2 0a1 1 0 1 0 -2 0zM158.0 286.5a1 1 0 1 0 2 0a1 1 0 1 0 -2 0zM165.4 286.7a1 1 0 1 0 2 0a1 1 0 1 0 -2 0zM168.7 299.2a1 1 0 1 0 2 0a1 1 0 1 0 -2 0zM78.7 317.8a1 1 0 1 0 2 0a1 1 0 1 0 -2 0zM168.3 323.7a1 1 0 1 0 2 0a1 1 0 1 0 -2 0zM166.9 324.2a1 1 0 1 0 2 0a1 1 0 1 0 -2 0zM167.0 329.4a1 1 0 1 0 2 0a1 1 0 1 0 -2 0zM54.8 337.1a1 1 0 1 0 2 0a1 1 0 1 0 -2 0zM80.5 336.0a1 1 0 1 0 2 0a1 1 0 1 0 -2 0zM71.7 347.6a1 1 0 1 0 2 0a1 1 0 1 0 -2 0zM73.9 357.7a1 1 0 1 0 2 0a1 1 0 1 0 -2 0zM74.5 356.8a1 1 0 1 0 2 0a1 1 0 1 0 -2 0zM78.7 358.5a1 1 0 1 0 2 0a1 1 0 1 0 -2 0zM87.7 379.1a1 1 0 1 0 2 0a1 1 0 1 0 -2 0zM87.0 390.0a1 1 0 1 0 2 0a1 1 0 1 0 -2 0zM83.1 392.9a1 1 0 1 0 2 0a1 1 0 1 0 -2 0zM90.3 394.4a1 1 0 1 0 2 0a1 1 0 1 0 -2 0zM92.1 399.3a1 1 0 1 0 2 0a1 1 0 1 0 -2 0zM146.6 378.5a1 1 0 1 0 2 0a1 1 0 1 0 -2 0zM139.4 385.3a1 1 0 1 0 2 0a1 1 0 1 0 -2 0zM147.9 390.1a1 1 0 1 0 2 0a1 1 0 1 0 -2 0zM144.0 396.6a1 1 0 1 0 2 0a1 1 0 1 0 -2 0zM143.3 397.7a1 1 0 1 0 2 0a1 1 0 1 0 -2 0zM150.7 397.1a1 1 0 1 0 2 0a1 1 0 1 0 -2 0zM166.7 329.6a1 1 0 1 0 2 0a1 1 0 1 0 -2 0zM166.3 333.1a1 1 0 1 0 2 0a1 1 0 1 0 -2 0zM167.6 332.7a1 1 0 1 0 2 0a1 1 0 1 0 -2 0zM165.7 334.5a1 1 0 1 0 2 0a1 1 0 1 0 -2 0zM167.1 335.3a1 1 0 1 0 2 0a1 1 0 1 0 -2 0zM159.1 341.3a1 1 0 1 0 2 0a1 1 0 1 0 -2 0zM162.5 340.6a1 1 0 1 0 2 0a1 1 0 1 0 -2 0zM165.2 340.6a1 1 0 1 0 2 0a1 1 0 1 0 -2 0zM164.3 344.0a1 1 0 1 0 2 0a1 1 0 1 0 -2 0zM167.3 347.4a1 1 0 1 0 2 0a1 1 0 1 0 -2 0zM169.4 346.2a1 1 0 1 0 2 0a1 1 0 1 0 -2 0zM165.2 350.7a1 1 0 1 0 2 0a1 1 0 1 0 -2 0zM171.5 351.8a1 1 0 1 0 2 0a1 1 0 1 0 -2 0zM167.5 355.4a1 1 0 1 0 2 0a1 1 0 1 0 -2 0zM167.1 357.0a1 1 0 1 0 2 0a1 1 0 1 0 -2 0zM169.7 358.8a1 1 0 1 0 2 0a1 1 0 1 0 -2 0zM167.3 356.0a1 1 0 1 0 2 0a1 1 0 1 0 -2 0zM169.9 359.2a1 1 0 1 0 2 0a1 1 0 1 0 -2 0zM170.4 361.5a1 1 0 1 0 2 0a1 1 0 1 0 -2 0zM163.3 364.6a1 1 0 1 0 2 0a1 1 0 1 0 -2 0zM161.8 366.5a1 1 0 1 0 2 0a1 1 0 1 0 -2 0zM167.8 368.4a1 1 0 1 0 2 0a1 1 0 1 0 -2 0zM172.3 366.0a1 1 0 1 0 2 0a1 1 0 1 0 -2 0zM167.3 370.9a1 1 0 1 0 2 0a1 1 0 1 0 -2 0zM166.0 373.3a1 1 0 1 0 2 0a1 1 0 1 0 -2 0zM172.3 372.8a1 1 0 1 0 2 0a1 1 0 1 0 -2 0zM165.2 377.5a1 1 0 1 0 2 0a1 1 0 1 0 -2 0zM169.3 377.5a1 1 0 1 0 2 0a1 1 0 1 0 -2 0zM172.5 377.0a1 1 0 1 0 2 0a1 1 0 1 0 -2 0zM165.7 379.1a1 1 0 1 0 2 0a1 1 0 1 0 -2 0zM171.6 379.8a1 1 0 1 0 2 0a1 1 0 1 0 -2 0zM170.4 383.3a1 1 0 1 0 2 0a1 1 0 1 0 -2 0zM168.3 385.3a1 1 0 1 0 2 0a1 1 0 1 0 -2 0zM168.3 386.4a1 1 0 1 0 2 0a1 1 0 1 0 -2 0zM172.0 386.6a1 1 0 1 0 2 0a1 1 0 1 0 -2 0zM164.6 387.6a1 1 0 1 0 2 0a1 1 0 1 0 -2 0zM162.2 389.3a1 1 0 1 0 2 0a1 1 0 1 0 -2 0zM159.4 392.4a1 1 0 1 0 2 0a1 1 0 1 0 -2 0zM168.3 391.6a1 1 0 1 0 2 0a1 1 0 1 0 -2 0zM170.4 392.1a1 1 0 1 0 2 0a1 1 0 1 0 -2 0zM172.0 392.5a1 1 0 1 0 2 0a1 1 0 1 0 -2 0zM168.8 394.2a1 1 0 1 0 2 0a1 1 0 1 0 -2 0zM171.4 394.8a1 1 0 1 0 2 0a1 1 0 1 0 -2 0zM150.0 396.9a1 1 0 1 0 2 0a1 1 0 1 0 -2 0zM151.6 397.9a1 1 0 1 0 2 0a1 1 0 1 0 -2 0zM170.4 396.3a1 1 0 1 0 2 0a1 1 0 1 0 -2 0zM167.3 396.9a1 1 0 1 0 2 0a1 1 0 1 0 -2 0zM165.2 398.4a1 1 0 1 0 2 0a1 1 0 1 0 -2 0zM162.5 397.9a1 1 0 1 0 2 0a1 1 0 1 0 -2 0zM160.5 399.0a1 1 0 1 0 2 0a1 1 0 1 0 -2 0zM157.8 400.5a1 1 0 1 0 2 0a1 1 0 1 0 -2 0zM161.5 401.0a1 1 0 1 0 2 0a1 1 0 1 0 -2 0zM163.6 400.5a1 1 0 1 0 2 0a1 1 0 1 0 -2 0zM166.7 400.0a1 1 0 1 0 2 0a1 1 0 1 0 -2 0zM168.3 401.0a1 1 0 1 0 2 0a1 1 0 1 0 -2 0zM172.5 401.0a1 1 0 1 0 2 0a1 1 0 1 0 -2 0zM170.4 399.0a1 1 0 1 0 2 0a1 1 0 1 0 -2 0zM158.9 402.6a1 1 0 1 0 2 0a1 1 0 1 0 -2 0zM161.0 403.1a1 1 0 1 0 2 0a1 1 0 1 0 -2 0zM168.8 403.7a1 1 0 1 0 2 0a1 1 0 1 0 -2 0zM171.4 403.1a1 1 0 1 0 2 0a1 1 0 1 0 -2 0zM156.8 403.7a1 1 0 1 0 2 0a1 1 0 1 0 -2 0zM161.5 404.2a1 1 0 1 0 2 0a1 1 0 1 0 -2 0zM170.4 404.2a1 1 0 1 0 2 0a1 1 0 1 0 -2 0zM167.8 404.2a1 1 0 1 0 2 0a1 1 0 1 0 -2 0zM154.0 402.0a1 1 0 1 0 2 0a1 1 0 1 0 -2 0zM149.0 401.5a1 1 0 1 0 2 0a1 1 0 1 0 -2 0zM146.0 403.0a1 1 0 1 0 2 0a1 1 0 1 0 -2 0zM173.0 398.0a1 1 0 1 0 2 0a1 1 0 1 0 -2 0zM173.0 389.0a1 1 0 1 0 2 0a1 1 0 1 0 -2 0zM172.8 382.0a1 1 0 1 0 2 0a1 1 0 1 0 -2 0z" fill="#3e6bb0"/>
<path d="M289.0 340.1a1 1 0 1 0 2 0a1 1 0 1 0 -2 0zM286.7 366.0a1 1 0 1 0 2 0a1 1 0 1 0 -2 0zM288.1 373.2a1 1 0 1 0 2 0a1 1 0 1 0 -2 0zM289.6 379.9a1 1 0 1 0 2 0a1 1 0 1 0 -2 0zM279.1 390.1a1 1 0 1 0 2 0a1 1 0 1 0 -2 0zM280.7 391.8a1 1 0 1 0 2 0a1 1 0 1 0 -2 0zM277.1 396.3a1 1 0 1 0 2 0a1 1 0 1 0 -2 0zM273.7 402.5a1 1 0 1 0 2 0a1 1 0 1 0 -2 0zM262.7 403.6a1 1 0 1 0 2 0a1 1 0 1 0 -2 0zM190.9 359.1a1 1 0 1 0 2 0a1 1 0 1 0 -2 0zM191.9 365.6a1 1 0 1 0 2 0a1 1 0 1 0 -2 0zM195.6 381.6a1 1 0 1 0 2 0a1 1 0 1 0 -2 0zM192.1 390.1a1 1 0 1 0 2 0a1 1 0 1 0 -2 0zM196.1 390.1a1 1 0 1 0 2 0a1 1 0 1 0 -2 0zM199.9 391.9a1 1 0 1 0 2 0a1 1 0 1 0 -2 0zM189.8 396.7a1 1 0 1 0 2 0a1 1 0 1 0 -2 0zM192.3 396.3a1 1 0 1 0 2 0a1 1 0 1 0 -2 0zM193.5 398.8a1 1 0 1 0 2 0a1 1 0 1 0 -2 0zM194.3 400.6a1 1 0 1 0 2 0a1 1 0 1 0 -2 0zM188.7 401.3a1 1 0 1 0 2 0a1 1 0 1 0 -2 0zM201.4 402.5a1 1 0 1 0 2 0a1 1 0 1 0 -2 0zM188.9 404.5a1 1 0 1 0 2 0a1 1 0 1 0 -2 0z" fill="#cc3f55"/>
<line x1="174.5" y1="236.2" x2="174.5" y2="419.6" stroke="#2a2a2a" stroke-width="1.05" stroke-dasharray="2.2 2.1"/>
<line x1="188.0" y1="236.2" x2="188.0" y2="419.6" stroke="#2a2a2a" stroke-width="0.95" stroke-dasharray="2.2 2.1"/>
<line x1="43" y1="404.4" x2="308" y2="404.4" stroke="#2a2a2a" stroke-width="1.05" stroke-dasharray="2.2 2.1"/>
<rect x="30.5" y="227.5" width="290.9" height="200.5" fill="none" stroke="#b0b0b0" stroke-width="1"/>
<path d="M45.05 428.0v2.2M113.15 428.0v2.2M181.25 428.0v2.2M249.35 428.0v2.2M317.45 428.0v2.2M30.5 419.10h-2.2M30.5 363.60h-2.2M30.5 308.10h-2.2M30.5 252.60h-2.2" stroke="#b0b0b0" stroke-width="1" fill="none"/>
<text x="45.05" y="439.9" font-size="11" text-anchor="middle" fill="#1a1a1a">−20</text>
<text x="113.15" y="439.9" font-size="11" text-anchor="middle" fill="#1a1a1a">−10</text>
<text x="181.25" y="439.9" font-size="11" text-anchor="middle" fill="#1a1a1a">0</text>
<text x="249.35" y="439.9" font-size="11" text-anchor="middle" fill="#1a1a1a">10</text>
<text x="317.45" y="439.9" font-size="11" text-anchor="middle" fill="#1a1a1a">20</text>
<text x="27.4" y="423.00" font-size="11" text-anchor="end" fill="#1a1a1a">0</text>
<text x="27.4" y="367.50" font-size="11" text-anchor="end" fill="#1a1a1a">5</text>
<text x="27.4" y="312.00" font-size="11" text-anchor="end" fill="#1a1a1a">10</text>
<text x="27.4" y="256.50" font-size="11" text-anchor="end" fill="#1a1a1a">15</text>
<text x="175.6" y="451.6" font-size="13" text-anchor="middle" fill="#000">log2 of Fold change</text>
<text transform="translate(10.8,326.6) rotate(-90)" font-size="13" text-anchor="middle" fill="#000">−log10 of qval</text>
<text x="29.6" y="203.8" font-size="14.3" fill="#000">clVSck</text>
<rect x="123" y="214.7" width="1.8" height="1.8" fill="#cc3f55"/>
<rect x="159.1" y="214.7" width="1.8" height="1.8" fill="#9a9a9a"/>
<rect x="195.4" y="214.7" width="1.8" height="1.8" fill="#3e6bb0"/>
<text x="135" y="220.3" font-size="13" fill="#000">up</text>
<text x="171.3" y="220.3" font-size="13" fill="#000">no</text>
<text x="207.1" y="220.3" font-size="13" fill="#000">down</text>
<g stroke="#999" stroke-width="0.7"><rect x="422.00" y="2.80" width="30.67" height="6.14" fill="#b8d9ea"/><rect x="452.67" y="2.80" width="30.67" height="6.14" fill="#b8d9ea"/><rect x="483.33" y="2.80" width="30.67" height="6.14" fill="#b8d9ea"/><rect x="514.00" y="2.80" width="30.67" height="6.14" fill="#d73027"/><rect x="544.67" y="2.80" width="30.67" height="6.14" fill="#b8d9ea"/><rect x="575.33" y="2.80" width="30.67" height="6.14" fill="#b8d9ea"/><rect x="422.00" y="8.94" width="30.67" height="6.14" fill="#b8d9ea"/><rect x="452.67" y="8.94" width="30.67" height="6.14" fill="#b8d9ea"/><rect x="483.33" y="8.94" width="30.67" height="6.14" fill="#b8d9ea"/><rect x="514.00" y="8.94" width="30.67" height="6.14" fill="#b8d9ea"/><rect x="544.67" y="8.94" width="30.67" height="6.14" fill="#b8d9ea"/><rect x="575.33" y="8.94" width="30.67" height="6.14" fill="#d73027"/><rect x="422.00" y="15.07" width="30.67" height="6.14" fill="#b8d9ea"/><rect x="452.67" y="15.07" width="30.67" height="6.14" fill="#b8d9ea"/><rect x="483.33" y="15.07" width="30.67" height="6.14" fill="#b8d9ea"/><rect x="514.00" y="15.07" width="30.67" height="6.14" fill="#b8d9ea"/><rect x="544.67" y="15.07" width="30.67" height="6.14" fill="#b8d9ea"/><rect x="575.33" y="15.07" width="30.67" height="6.14" fill="#d73027"/><rect x="422.00" y="21.21" width="30.67" height="6.14" fill="#91bfdb"/><rect x="452.67" y="21.21" width="30.67" height="6.14" fill="#95c2dc"/><rect x="483.33" y="21.21" width="30.67" height="6.14" fill="#95c2dc"/><rect x="514.00" y="21.21" width="30.67" height="6.14" fill="#f9fdca"/><rect x="544.67" y="21.21" width="30.67" height="6.14" fill="#f0f9dc"/><rect x="575.33" y="21.21" width="30.67" height="6.14" fill="#e04734"/><rect x="422.00" y="27.34" width="30.67" height="6.14" fill="#a1c9e1"/><rect x="452.67" y="27.34" width="30.67" height="6.14" fill="#a1c9e1"/><rect x="483.33" y="27.34" width="30.67" height="6.14" fill="#a1c9e1"/><rect x="514.00" y="27.34" width="30.67" height="6.14" fill="#ebf7e4"/><rect x="544.67" y="27.34" width="30.67" height="6.14" fill="#d0e9f2"/><rect x="575.33" y="27.34" width="30.67" height="6.14" fill="#d73027"/><rect x="422.00" y="33.48" width="30.67" height="6.14" fill="#a9cfe4"/><rect x="452.67" y="33.48" width="30.67" height="6.14" fill="#91bfdb"/><rect x="483.33" y="33.48" width="30.67" height="6.14" fill="#82b0d3"/><rect x="514.00" y="33.48" width="30.67" height="6.14" fill="#fee090"/><rect x="544.67" y="33.48" width="30.67" height="6.14" fill="#ea5e40"/><rect x="575.33" y="33.48" width="30.67" height="6.14" fill="#c0deec"/><rect x="422.00" y="39.62" width="30.67" height="6.14" fill="#84b2d4"/><rect x="452.67" y="39.62" width="30.67" height="6.14" fill="#91bfdb"/><rect x="483.33" y="39.62" width="30.67" height="6.14" fill="#78a7ce"/><rect x="514.00" y="39.62" width="30.67" height="6.14" fill="#fee395"/><rect x="544.67" y="39.62" width="30.67" height="6.14" fill="#f67f51"/><rect x="575.33" y="39.62" width="30.67" height="6.14" fill="#fffcba"/><rect x="422.00" y="45.75" width="30.67" height="6.14" fill="#86b4d5"/><rect x="452.67" y="45.75" width="30.67" height="6.14" fill="#88b6d6"/><rect x="483.33" y="45.75" width="30.67" height="6.14" fill="#95c2dc"/><rect x="514.00" y="45.75" width="30.67" height="6.14" fill="#f7fccd"/><rect x="544.67" y="45.75" width="30.67" height="6.14" fill="#e6553b"/><rect x="575.33" y="45.75" width="30.67" height="6.14" fill="#fffcba"/><rect x="422.00" y="51.89" width="30.67" height="6.14" fill="#86b4d5"/><rect x="452.67" y="51.89" width="30.67" height="6.14" fill="#89b8d7"/><rect x="483.33" y="51.89" width="30.67" height="6.14" fill="#93c0dc"/><rect x="514.00" y="51.89" width="30.67" height="6.14" fill="#f9fdca"/><rect x="544.67" y="51.89" width="30.67" height="6.14" fill="#e85a3e"/><rect x="575.33" y="51.89" width="30.67" height="6.14" fill="#f6fbd0"/><rect x="422.00" y="58.02" width="30.67" height="6.14" fill="#86b4d5"/><rect x="452.67" y="58.02" width="30.67" height="6.14" fill="#88b6d6"/><rect x="483.33" y="58.02" width="30.67" height="6.14" fill="#8fbdda"/><rect x="514.00" y="58.02" width="30.67" height="6.14" fill="#fffdbd"/><rect x="544.67" y="58.02" width="30.67" height="6.14" fill="#e85a3e"/><rect x="575.33" y="58.02" width="30.67" height="6.14" fill="#fffcba"/><rect x="422.00" y="64.16" width="30.67" height="6.14" fill="#91bfdb"/><rect x="452.67" y="64.16" width="30.67" height="6.14" fill="#78a7ce"/><rect x="483.33" y="64.16" width="30.67" height="6.14" fill="#71a0ca"/><rect x="514.00" y="64.16" width="30.67" height="6.14" fill="#fc9961"/><rect x="544.67" y="64.16" width="30.67" height="6.14" fill="#fee090"/><rect x="575.33" y="64.16" width="30.67" height="6.14" fill="#fffcba"/><rect x="422.00" y="70.30" width="30.67" height="6.14" fill="#91bfdb"/><rect x="452.67" y="70.30" width="30.67" height="6.14" fill="#78a7ce"/><rect x="483.33" y="70.30" width="30.67" height="6.14" fill="#73a1cb"/><rect x="514.00" y="70.30" width="30.67" height="6.14" fill="#fc8d59"/><rect x="544.67" y="70.30" width="30.67" height="6.14" fill="#fee090"/><rect x="575.33" y="70.30" width="30.67" height="6.14" fill="#f0f9dc"/><rect x="422.00" y="76.43" width="30.67" height="6.14" fill="#86b4d5"/><rect x="452.67" y="76.43" width="30.67" height="6.14" fill="#6998c7"/><rect x="483.33" y="76.43" width="30.67" height="6.14" fill="#76a5cd"/><rect x="514.00" y="76.43" width="30.67" height="6.14" fill="#fee090"/><rect x="544.67" y="76.43" width="30.67" height="6.14" fill="#fdc780"/><rect x="575.33" y="76.43" width="30.67" height="6.14" fill="#fee090"/><rect x="422.00" y="82.57" width="30.67" height="6.14" fill="#8fbdda"/><rect x="452.67" y="82.57" width="30.67" height="6.14" fill="#6796c6"/><rect x="483.33" y="82.57" width="30.67" height="6.14" fill="#78a7ce"/><rect x="514.00" y="82.57" width="30.67" height="6.14" fill="#fedc8d"/><rect x="544.67" y="82.57" width="30.67" height="6.14" fill="#fee395"/><rect x="575.33" y="82.57" width="30.67" height="6.14" fill="#fee090"/><rect x="422.00" y="88.70" width="30.67" height="6.14" fill="#8dbbd9"/><rect x="452.67" y="88.70" width="30.67" height="6.14" fill="#6b9ac8"/><rect x="483.33" y="88.70" width="30.67" height="6.14" fill="#78a7ce"/><rect x="514.00" y="88.70" width="30.67" height="6.14" fill="#fdaa6c"/><rect x="544.67" y="88.70" width="30.67" height="6.14" fill="#fee699"/><rect x="575.33" y="88.70" width="30.67" height="6.14" fill="#fee99e"/><rect x="422.00" y="94.84" width="30.67" height="6.14" fill="#7aa9cf"/><rect x="452.67" y="94.84" width="30.67" height="6.14" fill="#7eacd1"/><rect x="483.33" y="94.84" width="30.67" height="6.14" fill="#7aa9cf"/><rect x="514.00" y="94.84" width="30.67" height="6.14" fill="#fdae6f"/><rect x="544.67" y="94.84" width="30.67" height="6.14" fill="#fee699"/><rect x="575.33" y="94.84" width="30.67" height="6.14" fill="#feeea5"/><rect x="422.00" y="100.98" width="30.67" height="6.14" fill="#73a1cb"/><rect x="452.67" y="100.98" width="30.67" height="6.14" fill="#d0e9f2"/><rect x="483.33" y="100.98" width="30.67" height="6.14" fill="#4b7bb7"/><rect x="514.00" y="100.98" width="30.67" height="6.14" fill="#fed488"/><rect x="544.67" y="100.98" width="30.67" height="6.14" fill="#fee090"/><rect x="575.33" y="100.98" width="30.67" height="6.14" fill="#feeea5"/><rect x="422.00" y="107.11" width="30.67" height="6.14" fill="#78a7ce"/><rect x="452.67" y="107.11" width="30.67" height="6.14" fill="#bcdceb"/><rect x="483.33" y="107.11" width="30.67" height="6.14" fill="#5282bb"/><rect x="514.00" y="107.11" width="30.67" height="6.14" fill="#fdbb77"/><rect x="544.67" y="107.11" width="30.67" height="6.14" fill="#fee090"/><rect x="575.33" y="107.11" width="30.67" height="6.14" fill="#fff1aa"/><rect x="422.00" y="113.25" width="30.67" height="6.14" fill="#78a7ce"/><rect x="452.67" y="113.25" width="30.67" height="6.14" fill="#c8e3ef"/><rect x="483.33" y="113.25" width="30.67" height="6.14" fill="#5080ba"/><rect x="514.00" y="113.25" width="30.67" height="6.14" fill="#fdae6f"/><rect x="544.67" y="113.25" width="30.67" height="6.14" fill="#fee699"/><rect x="575.33" y="113.25" width="30.67" height="6.14" fill="#fff6b1"/><rect x="422.00" y="119.38" width="30.67" height="6.14" fill="#6796c6"/><rect x="452.67" y="119.38" width="30.67" height="6.14" fill="#e8f6ea"/><rect x="483.33" y="119.38" width="30.67" height="6.14" fill="#4d7cb8"/><rect x="514.00" y="119.38" width="30.67" height="6.14" fill="#fed488"/><rect x="544.67" y="119.38" width="30.67" height="6.14" fill="#fee699"/><rect x="575.33" y="119.38" width="30.67" height="6.14" fill="#fee090"/><rect x="422.00" y="125.52" width="30.67" height="6.14" fill="#76a5cd"/><rect x="452.67" y="125.52" width="30.67" height="6.14" fill="#b8d9ea"/><rect x="483.33" y="125.52" width="30.67" height="6.14" fill="#5e8dc1"/><rect x="514.00" y="125.52" width="30.67" height="6.14" fill="#fed488"/><rect x="544.67" y="125.52" width="30.67" height="6.14" fill="#fff1aa"/><rect x="575.33" y="125.52" width="30.67" height="6.14" fill="#fdb674"/><rect x="422.00" y="131.66" width="30.67" height="6.14" fill="#5888be"/><rect x="452.67" y="131.66" width="30.67" height="6.14" fill="#c6e2ef"/><rect x="483.33" y="131.66" width="30.67" height="6.14" fill="#73a1cb"/><rect x="514.00" y="131.66" width="30.67" height="6.14" fill="#fed488"/><rect x="544.67" y="131.66" width="30.67" height="6.14" fill="#feeea5"/><rect x="575.33" y="131.66" width="30.67" height="6.14" fill="#fee090"/><rect x="422.00" y="137.79" width="30.67" height="6.14" fill="#80aed2"/><rect x="452.67" y="137.79" width="30.67" height="6.14" fill="#7eacd1"/><rect x="483.33" y="137.79" width="30.67" height="6.14" fill="#82b0d3"/><rect x="514.00" y="137.79" width="30.67" height="6.14" fill="#fc8d59"/><rect x="544.67" y="137.79" width="30.67" height="6.14" fill="#f4fbd3"/><rect x="575.33" y="137.79" width="30.67" height="6.14" fill="#fee090"/><rect x="422.00" y="143.93" width="30.67" height="6.14" fill="#7aa9cf"/><rect x="452.67" y="143.93" width="30.67" height="6.14" fill="#7aa9cf"/><rect x="483.33" y="143.93" width="30.67" height="6.14" fill="#76a5cd"/><rect x="514.00" y="143.93" width="30.67" height="6.14" fill="#fc9e64"/><rect x="544.67" y="143.93" width="30.67" height="6.14" fill="#fffcba"/><rect x="575.33" y="143.93" width="30.67" height="6.14" fill="#fed488"/><rect x="422.00" y="150.06" width="30.67" height="6.14" fill="#95c2dc"/><rect x="452.67" y="150.06" width="30.67" height="6.14" fill="#71a0ca"/><rect x="483.33" y="150.06" width="30.67" height="6.14" fill="#7aa9cf"/><rect x="514.00" y="150.06" width="30.67" height="6.14" fill="#fee090"/><rect x="544.67" y="150.06" width="30.67" height="6.14" fill="#fff6b1"/><rect x="575.33" y="150.06" width="30.67" height="6.14" fill="#fdb272"/><rect x="422.00" y="156.20" width="30.67" height="6.14" fill="#7aa9cf"/><rect x="452.67" y="156.20" width="30.67" height="6.14" fill="#7aa9cf"/><rect x="483.33" y="156.20" width="30.67" height="6.14" fill="#82b0d3"/><rect x="514.00" y="156.20" width="30.67" height="6.14" fill="#fdb674"/><rect x="544.67" y="156.20" width="30.67" height="6.14" fill="#fff1aa"/><rect x="575.33" y="156.20" width="30.67" height="6.14" fill="#fdb272"/><rect x="422.00" y="162.34" width="30.67" height="6.14" fill="#7aa9cf"/><rect x="452.67" y="162.34" width="30.67" height="6.14" fill="#7eacd1"/><rect x="483.33" y="162.34" width="30.67" height="6.14" fill="#7eacd1"/><rect x="514.00" y="162.34" width="30.67" height="6.14" fill="#fdaa6c"/><rect x="544.67" y="162.34" width="30.67" height="6.14" fill="#fffab8"/><rect x="575.33" y="162.34" width="30.67" height="6.14" fill="#fdc37d"/><rect x="422.00" y="168.47" width="30.67" height="6.14" fill="#80aed2"/><rect x="452.67" y="168.47" width="30.67" height="6.14" fill="#7aa9cf"/><rect x="483.33" y="168.47" width="30.67" height="6.14" fill="#80aed2"/><rect x="514.00" y="168.47" width="30.67" height="6.14" fill="#fee090"/><rect x="544.67" y="168.47" width="30.67" height="6.14" fill="#f9fdca"/><rect x="575.33" y="168.47" width="30.67" height="6.14" fill="#fc8d59"/><rect x="422.00" y="174.61" width="30.67" height="6.14" fill="#6f9ec9"/><rect x="452.67" y="174.61" width="30.67" height="6.14" fill="#7aa9cf"/><rect x="483.33" y="174.61" width="30.67" height="6.14" fill="#8fbdda"/><rect x="514.00" y="174.61" width="30.67" height="6.14" fill="#fedc8d"/><rect x="544.67" y="174.61" width="30.67" height="6.14" fill="#fff1aa"/><rect x="575.33" y="174.61" width="30.67" height="6.14" fill="#fc955e"/><rect x="422.00" y="180.74" width="30.67" height="6.14" fill="#71a0ca"/><rect x="452.67" y="180.74" width="30.67" height="6.14" fill="#d0e9f2"/><rect x="483.33" y="180.74" width="30.67" height="6.14" fill="#5a89bf"/><rect x="514.00" y="180.74" width="30.67" height="6.14" fill="#eef8de"/><rect x="544.67" y="180.74" width="30.67" height="6.14" fill="#fed488"/><rect x="575.33" y="180.74" width="30.67" height="6.14" fill="#fc955e"/><rect x="422.00" y="186.88" width="30.67" height="6.14" fill="#78a7ce"/><rect x="452.67" y="186.88" width="30.67" height="6.14" fill="#cae5f0"/><rect x="483.33" y="186.88" width="30.67" height="6.14" fill="#6f9ec9"/><rect x="514.00" y="186.88" width="30.67" height="6.14" fill="#e0f3f8"/><rect x="544.67" y="186.88" width="30.67" height="6.14" fill="#fdaa6c"/><rect x="575.33" y="186.88" width="30.67" height="6.14" fill="#fc9e64"/><rect x="422.00" y="193.02" width="30.67" height="6.14" fill="#608fc2"/><rect x="452.67" y="193.02" width="30.67" height="6.14" fill="#dcf0f7"/><rect x="483.33" y="193.02" width="30.67" height="6.14" fill="#6998c7"/><rect x="514.00" y="193.02" width="30.67" height="6.14" fill="#f4fbd3"/><rect x="544.67" y="193.02" width="30.67" height="6.14" fill="#fc8d59"/><rect x="575.33" y="193.02" width="30.67" height="6.14" fill="#fee395"/><rect x="422.00" y="199.15" width="30.67" height="6.14" fill="#78a7ce"/><rect x="452.67" y="199.15" width="30.67" height="6.14" fill="#b8d9ea"/><rect x="483.33" y="199.15" width="30.67" height="6.14" fill="#6f9ec9"/><rect x="514.00" y="199.15" width="30.67" height="6.14" fill="#ebf7e4"/><rect x="544.67" y="199.15" width="30.67" height="6.14" fill="#fc9961"/><rect x="575.33" y="199.15" width="30.67" height="6.14" fill="#fee090"/><rect x="422.00" y="205.29" width="30.67" height="6.14" fill="#6f9ec9"/><rect x="452.67" y="205.29" width="30.67" height="6.14" fill="#c8e3ef"/><rect x="483.33" y="205.29" width="30.67" height="6.14" fill="#5888be"/><rect x="514.00" y="205.29" width="30.67" height="6.14" fill="#f6fbd0"/><rect x="544.67" y="205.29" width="30.67" height="6.14" fill="#fc9961"/><rect x="575.33" y="205.29" width="30.67" height="6.14" fill="#fee090"/><rect x="422.00" y="211.42" width="30.67" height="6.14" fill="#76a5cd"/><rect x="452.67" y="211.42" width="30.67" height="6.14" fill="#cce6f1"/><rect x="483.33" y="211.42" width="30.67" height="6.14" fill="#5888be"/><rect x="514.00" y="211.42" width="30.67" height="6.14" fill="#f6fbd0"/><rect x="544.67" y="211.42" width="30.67" height="6.14" fill="#fc9e64"/><rect x="575.33" y="211.42" width="30.67" height="6.14" fill="#fed88b"/><rect x="422.00" y="217.56" width="30.67" height="6.14" fill="#76a5cd"/><rect x="452.67" y="217.56" width="30.67" height="6.14" fill="#b8d9ea"/><rect x="483.33" y="217.56" width="30.67" height="6.14" fill="#6291c3"/><rect x="514.00" y="217.56" width="30.67" height="6.14" fill="#f4fbd3"/><rect x="544.67" y="217.56" width="30.67" height="6.14" fill="#fc9e64"/><rect x="575.33" y="217.56" width="30.67" height="6.14" fill="#fedc8d"/><rect x="422.00" y="223.70" width="30.67" height="6.14" fill="#76a5cd"/><rect x="452.67" y="223.70" width="30.67" height="6.14" fill="#b1d4e7"/><rect x="483.33" y="223.70" width="30.67" height="6.14" fill="#5484bc"/><rect x="514.00" y="223.70" width="30.67" height="6.14" fill="#f6fbd0"/><rect x="544.67" y="223.70" width="30.67" height="6.14" fill="#fc9e64"/><rect x="575.33" y="223.70" width="30.67" height="6.14" fill="#fed88b"/><rect x="422.00" y="229.83" width="30.67" height="6.14" fill="#76a5cd"/><rect x="452.67" y="229.83" width="30.67" height="6.14" fill="#abd0e4"/><rect x="483.33" y="229.83" width="30.67" height="6.14" fill="#6291c3"/><rect x="514.00" y="229.83" width="30.67" height="6.14" fill="#fffdbd"/><rect x="544.67" y="229.83" width="30.67" height="6.14" fill="#fc9e64"/><rect x="575.33" y="229.83" width="30.67" height="6.14" fill="#fee395"/><rect x="422.00" y="235.97" width="30.67" height="6.14" fill="#7aa9cf"/><rect x="452.67" y="235.97" width="30.67" height="6.14" fill="#afd2e6"/><rect x="483.33" y="235.97" width="30.67" height="6.14" fill="#5484bc"/><rect x="514.00" y="235.97" width="30.67" height="6.14" fill="#fff1aa"/><rect x="544.67" y="235.97" width="30.67" height="6.14" fill="#fc9e64"/><rect x="575.33" y="235.97" width="30.67" height="6.14" fill="#fee090"/><rect x="422.00" y="242.10" width="30.67" height="6.14" fill="#80aed2"/><rect x="452.67" y="242.10" width="30.67" height="6.14" fill="#86b4d5"/><rect x="483.33" y="242.10" width="30.67" height="6.14" fill="#78a7ce"/><rect x="514.00" y="242.10" width="30.67" height="6.14" fill="#feeea5"/><rect x="544.67" y="242.10" width="30.67" height="6.14" fill="#fc9e64"/><rect x="575.33" y="242.10" width="30.67" height="6.14" fill="#fee395"/><rect x="422.00" y="248.24" width="30.67" height="6.14" fill="#9fc8e0"/><rect x="452.67" y="248.24" width="30.67" height="6.14" fill="#84b2d4"/><rect x="483.33" y="248.24" width="30.67" height="6.14" fill="#6291c3"/><rect x="514.00" y="248.24" width="30.67" height="6.14" fill="#fff6b1"/><rect x="544.67" y="248.24" width="30.67" height="6.14" fill="#fc8d59"/><rect x="575.33" y="248.24" width="30.67" height="6.14" fill="#fee090"/><rect x="422.00" y="254.38" width="30.67" height="6.14" fill="#add1e5"/><rect x="452.67" y="254.38" width="30.67" height="6.14" fill="#80aed2"/><rect x="483.33" y="254.38" width="30.67" height="6.14" fill="#5080ba"/><rect x="514.00" y="254.38" width="30.67" height="6.14" fill="#feeea5"/><rect x="544.67" y="254.38" width="30.67" height="6.14" fill="#fdaa6c"/><rect x="575.33" y="254.38" width="30.67" height="6.14" fill="#fed488"/><rect x="422.00" y="260.51" width="30.67" height="6.14" fill="#add1e5"/><rect x="452.67" y="260.51" width="30.67" height="6.14" fill="#86b4d5"/><rect x="483.33" y="260.51" width="30.67" height="6.14" fill="#5080ba"/><rect x="514.00" y="260.51" width="30.67" height="6.14" fill="#f6fbd0"/><rect x="544.67" y="260.51" width="30.67" height="6.14" fill="#fdaa6c"/><rect x="575.33" y="260.51" width="30.67" height="6.14" fill="#fdc780"/><rect x="422.00" y="266.65" width="30.67" height="6.14" fill="#88b6d6"/><rect x="452.67" y="266.65" width="30.67" height="6.14" fill="#76a5cd"/><rect x="483.33" y="266.65" width="30.67" height="6.14" fill="#95c2dc"/><rect x="514.00" y="266.65" width="30.67" height="6.14" fill="#eef8de"/><rect x="544.67" y="266.65" width="30.67" height="6.14" fill="#fc8d59"/><rect x="575.33" y="266.65" width="30.67" height="6.14" fill="#fee090"/><rect x="422.00" y="272.78" width="30.67" height="6.14" fill="#88b6d6"/><rect x="452.67" y="272.78" width="30.67" height="6.14" fill="#7eacd1"/><rect x="483.33" y="272.78" width="30.67" height="6.14" fill="#88b6d6"/><rect x="514.00" y="272.78" width="30.67" height="6.14" fill="#eef8de"/><rect x="544.67" y="272.78" width="30.67" height="6.14" fill="#fc8d59"/><rect x="575.33" y="272.78" width="30.67" height="6.14" fill="#fed88b"/><rect x="422.00" y="278.92" width="30.67" height="6.14" fill="#76a5cd"/><rect x="452.67" y="278.92" width="30.67" height="6.14" fill="#88b6d6"/><rect x="483.33" y="278.92" width="30.67" height="6.14" fill="#7eacd1"/><rect x="514.00" y="278.92" width="30.67" height="6.14" fill="#fff6b1"/><rect x="544.67" y="278.92" width="30.67" height="6.14" fill="#fdae6f"/><rect x="575.33" y="278.92" width="30.67" height="6.14" fill="#fdc37d"/><rect x="422.00" y="285.06" width="30.67" height="6.14" fill="#7aa9cf"/><rect x="452.67" y="285.06" width="30.67" height="6.14" fill="#88b6d6"/><rect x="483.33" y="285.06" width="30.67" height="6.14" fill="#7eacd1"/><rect x="514.00" y="285.06" width="30.67" height="6.14" fill="#fffdbd"/><rect x="544.67" y="285.06" width="30.67" height="6.14" fill="#fdae6f"/><rect x="575.33" y="285.06" width="30.67" height="6.14" fill="#fdc37d"/><rect x="422.00" y="291.19" width="30.67" height="6.14" fill="#7eacd1"/><rect x="452.67" y="291.19" width="30.67" height="6.14" fill="#7aa9cf"/><rect x="483.33" y="291.19" width="30.67" height="6.14" fill="#88b6d6"/><rect x="514.00" y="291.19" width="30.67" height="6.14" fill="#fffdbd"/><rect x="544.67" y="291.19" width="30.67" height="6.14" fill="#fdae6f"/><rect x="575.33" y="291.19" width="30.67" height="6.14" fill="#fdc37d"/><rect x="422.00" y="297.33" width="30.67" height="6.14" fill="#76a5cd"/><rect x="452.67" y="297.33" width="30.67" height="6.14" fill="#8bb9d8"/><rect x="483.33" y="297.33" width="30.67" height="6.14" fill="#88b6d6"/><rect x="514.00" y="297.33" width="30.67" height="6.14" fill="#f6fbd0"/><rect x="544.67" y="297.33" width="30.67" height="6.14" fill="#fdaa6c"/><rect x="575.33" y="297.33" width="30.67" height="6.14" fill="#fdb272"/><rect x="422.00" y="303.46" width="30.67" height="6.14" fill="#7aa9cf"/><rect x="452.67" y="303.46" width="30.67" height="6.14" fill="#a9cfe4"/><rect x="483.33" y="303.46" width="30.67" height="6.14" fill="#6998c7"/><rect x="514.00" y="303.46" width="30.67" height="6.14" fill="#f4fbd3"/><rect x="544.67" y="303.46" width="30.67" height="6.14" fill="#fdaa6c"/><rect x="575.33" y="303.46" width="30.67" height="6.14" fill="#fdb272"/><rect x="422.00" y="309.60" width="30.67" height="6.14" fill="#7aa9cf"/><rect x="452.67" y="309.60" width="30.67" height="6.14" fill="#a9cfe4"/><rect x="483.33" y="309.60" width="30.67" height="6.14" fill="#6998c7"/><rect x="514.00" y="309.60" width="30.67" height="6.14" fill="#f6fbd0"/><rect x="544.67" y="309.60" width="30.67" height="6.14" fill="#fdaa6c"/><rect x="575.33" y="309.60" width="30.67" height="6.14" fill="#fdaa6c"/><rect x="422.00" y="315.74" width="30.67" height="6.14" fill="#91bfdb"/><rect x="452.67" y="315.74" width="30.67" height="6.14" fill="#91bfdb"/><rect x="483.33" y="315.74" width="30.67" height="6.14" fill="#91bfdb"/><rect x="514.00" y="315.74" width="30.67" height="6.14" fill="#cce6f1"/><rect x="544.67" y="315.74" width="30.67" height="6.14" fill="#fee395"/><rect x="575.33" y="315.74" width="30.67" height="6.14" fill="#ef6c48"/><rect x="422.00" y="321.87" width="30.67" height="6.14" fill="#add1e5"/><rect x="452.67" y="321.87" width="30.67" height="6.14" fill="#86b4d5"/><rect x="483.33" y="321.87" width="30.67" height="6.14" fill="#6796c6"/><rect x="514.00" y="321.87" width="30.67" height="6.14" fill="#f4fbd3"/><rect x="544.67" y="321.87" width="30.67" height="6.14" fill="#fee090"/><rect x="575.33" y="321.87" width="30.67" height="6.14" fill="#fc8d59"/><rect x="422.00" y="328.01" width="30.67" height="6.14" fill="#91bfdb"/><rect x="452.67" y="328.01" width="30.67" height="6.14" fill="#88b6d6"/><rect x="483.33" y="328.01" width="30.67" height="6.14" fill="#76a5cd"/><rect x="514.00" y="328.01" width="30.67" height="6.14" fill="#f3fad6"/><rect x="544.67" y="328.01" width="30.67" height="6.14" fill="#fedc8d"/><rect x="575.33" y="328.01" width="30.67" height="6.14" fill="#fc8d59"/><rect x="422.00" y="334.14" width="30.67" height="6.14" fill="#95c2dc"/><rect x="452.67" y="334.14" width="30.67" height="6.14" fill="#91bfdb"/><rect x="483.33" y="334.14" width="30.67" height="6.14" fill="#6291c3"/><rect x="514.00" y="334.14" width="30.67" height="6.14" fill="#f4fbd3"/><rect x="544.67" y="334.14" width="30.67" height="6.14" fill="#fee090"/><rect x="575.33" y="334.14" width="30.67" height="6.14" fill="#fc8d59"/><rect x="422.00" y="340.28" width="30.67" height="6.14" fill="#88b6d6"/><rect x="452.67" y="340.28" width="30.67" height="6.14" fill="#88b6d6"/><rect x="483.33" y="340.28" width="30.67" height="6.14" fill="#84b2d4"/><rect x="514.00" y="340.28" width="30.67" height="6.14" fill="#fafdc8"/><rect x="544.67" y="340.28" width="30.67" height="6.14" fill="#fee395"/><rect x="575.33" y="340.28" width="30.67" height="6.14" fill="#f67f51"/><rect x="422.00" y="346.42" width="30.67" height="6.14" fill="#80aed2"/><rect x="452.67" y="346.42" width="30.67" height="6.14" fill="#a9cfe4"/><rect x="483.33" y="346.42" width="30.67" height="6.14" fill="#76a5cd"/><rect x="514.00" y="346.42" width="30.67" height="6.14" fill="#f0f9dc"/><rect x="544.67" y="346.42" width="30.67" height="6.14" fill="#fee99e"/><rect x="575.33" y="346.42" width="30.67" height="6.14" fill="#f67f51"/><rect x="422.00" y="352.55" width="30.67" height="6.14" fill="#6f9ec9"/><rect x="452.67" y="352.55" width="30.67" height="6.14" fill="#d0e9f2"/><rect x="483.33" y="352.55" width="30.67" height="6.14" fill="#71a0ca"/><rect x="514.00" y="352.55" width="30.67" height="6.14" fill="#fff6b1"/><rect x="544.67" y="352.55" width="30.67" height="6.14" fill="#fafdc8"/><rect x="575.33" y="352.55" width="30.67" height="6.14" fill="#f67f51"/><rect x="422.00" y="358.69" width="30.67" height="6.14" fill="#88b6d6"/><rect x="452.67" y="358.69" width="30.67" height="6.14" fill="#95c2dc"/><rect x="483.33" y="358.69" width="30.67" height="6.14" fill="#7aa9cf"/><rect x="514.00" y="358.69" width="30.67" height="6.14" fill="#feeea5"/><rect x="544.67" y="358.69" width="30.67" height="6.14" fill="#f4fbd3"/><rect x="575.33" y="358.69" width="30.67" height="6.14" fill="#f1714a"/><rect x="422.00" y="364.82" width="30.67" height="6.14" fill="#95c2dc"/><rect x="452.67" y="364.82" width="30.67" height="6.14" fill="#95c2dc"/><rect x="483.33" y="364.82" width="30.67" height="6.14" fill="#5888be"/><rect x="514.00" y="364.82" width="30.67" height="6.14" fill="#fee99e"/><rect x="544.67" y="364.82" width="30.67" height="6.14" fill="#f4fbd3"/><rect x="575.33" y="364.82" width="30.67" height="6.14" fill="#f67f51"/><rect x="422.00" y="370.96" width="30.67" height="6.14" fill="#95c2dc"/><rect x="452.67" y="370.96" width="30.67" height="6.14" fill="#91bfdb"/><rect x="483.33" y="370.96" width="30.67" height="6.14" fill="#5888be"/><rect x="514.00" y="370.96" width="30.67" height="6.14" fill="#fee99e"/><rect x="544.67" y="370.96" width="30.67" height="6.14" fill="#fffab8"/><rect x="575.33" y="370.96" width="30.67" height="6.14" fill="#fc8d59"/><rect x="422.00" y="377.10" width="30.67" height="6.14" fill="#8dbbd9"/><rect x="452.67" y="377.10" width="30.67" height="6.14" fill="#b8d9ea"/><rect x="483.33" y="377.10" width="30.67" height="6.14" fill="#5888be"/><rect x="514.00" y="377.10" width="30.67" height="6.14" fill="#feeea5"/><rect x="544.67" y="377.10" width="30.67" height="6.14" fill="#fffdbd"/><rect x="575.33" y="377.10" width="30.67" height="6.14" fill="#fc8d59"/><rect x="422.00" y="383.23" width="30.67" height="6.14" fill="#8fbdda"/><rect x="452.67" y="383.23" width="30.67" height="6.14" fill="#a9cfe4"/><rect x="483.33" y="383.23" width="30.67" height="6.14" fill="#5888be"/><rect x="514.00" y="383.23" width="30.67" height="6.14" fill="#fffab8"/><rect x="544.67" y="383.23" width="30.67" height="6.14" fill="#fafdc8"/><rect x="575.33" y="383.23" width="30.67" height="6.14" fill="#f1714a"/><rect x="422.00" y="389.37" width="30.67" height="6.14" fill="#91bfdb"/><rect x="452.67" y="389.37" width="30.67" height="6.14" fill="#a9cfe4"/><rect x="483.33" y="389.37" width="30.67" height="6.14" fill="#5080ba"/><rect x="514.00" y="389.37" width="30.67" height="6.14" fill="#f4fbd3"/><rect x="544.67" y="389.37" width="30.67" height="6.14" fill="#fdc37d"/><rect x="575.33" y="389.37" width="30.67" height="6.14" fill="#fc9e64"/><rect x="422.00" y="395.50" width="30.67" height="6.14" fill="#88b6d6"/><rect x="452.67" y="395.50" width="30.67" height="6.14" fill="#91bfdb"/><rect x="483.33" y="395.50" width="30.67" height="6.14" fill="#6796c6"/><rect x="514.00" y="395.50" width="30.67" height="6.14" fill="#fff6b1"/><rect x="544.67" y="395.50" width="30.67" height="6.14" fill="#fed488"/><rect x="575.33" y="395.50" width="30.67" height="6.14" fill="#fc9e64"/><rect x="422.00" y="401.64" width="30.67" height="6.14" fill="#82b0d3"/><rect x="452.67" y="401.64" width="30.67" height="6.14" fill="#91bfdb"/><rect x="483.33" y="401.64" width="30.67" height="6.14" fill="#6594c5"/><rect x="514.00" y="401.64" width="30.67" height="6.14" fill="#fffab8"/><rect x="544.67" y="401.64" width="30.67" height="6.14" fill="#fedc8d"/><rect x="575.33" y="401.64" width="30.67" height="6.14" fill="#fc9e64"/><rect x="422.00" y="407.78" width="30.67" height="6.14" fill="#86b4d5"/><rect x="452.67" y="407.78" width="30.67" height="6.14" fill="#91bfdb"/><rect x="483.33" y="407.78" width="30.67" height="6.14" fill="#6393c4"/><rect x="514.00" y="407.78" width="30.67" height="6.14" fill="#fffab8"/><rect x="544.67" y="407.78" width="30.67" height="6.14" fill="#fedc8d"/><rect x="575.33" y="407.78" width="30.67" height="6.14" fill="#fc955e"/><rect x="422.00" y="413.91" width="30.67" height="6.14" fill="#86b4d5"/><rect x="452.67" y="413.91" width="30.67" height="6.14" fill="#a1c9e1"/><rect x="483.33" y="413.91" width="30.67" height="6.14" fill="#608fc2"/><rect x="514.00" y="413.91" width="30.67" height="6.14" fill="#fffab8"/><rect x="544.67" y="413.91" width="30.67" height="6.14" fill="#fee090"/><rect x="575.33" y="413.91" width="30.67" height="6.14" fill="#fc955e"/><rect x="422.00" y="420.05" width="30.67" height="6.14" fill="#86b4d5"/><rect x="452.67" y="420.05" width="30.67" height="6.14" fill="#a9cfe4"/><rect x="483.33" y="420.05" width="30.67" height="6.14" fill="#5484bc"/><rect x="514.00" y="420.05" width="30.67" height="6.14" fill="#fffab8"/><rect x="544.67" y="420.05" width="30.67" height="6.14" fill="#fee090"/><rect x="575.33" y="420.05" width="30.67" height="6.14" fill="#fc955e"/><rect x="422.00" y="426.18" width="30.67" height="6.14" fill="#86b4d5"/><rect x="452.67" y="426.18" width="30.67" height="6.14" fill="#a1c9e1"/><rect x="483.33" y="426.18" width="30.67" height="6.14" fill="#6393c4"/><rect x="514.00" y="426.18" width="30.67" height="6.14" fill="#fff1aa"/><rect x="544.67" y="426.18" width="30.67" height="6.14" fill="#fee090"/><rect x="575.33" y="426.18" width="30.67" height="6.14" fill="#fc8d59"/><rect x="422.00" y="432.32" width="30.67" height="6.14" fill="#86b4d5"/><rect x="452.67" y="432.32" width="30.67" height="6.14" fill="#b5d6e8"/><rect x="483.33" y="432.32" width="30.67" height="6.14" fill="#5a89bf"/><rect x="514.00" y="432.32" width="30.67" height="6.14" fill="#fffab8"/><rect x="544.67" y="432.32" width="30.67" height="6.14" fill="#fee395"/><rect x="575.33" y="432.32" width="30.67" height="6.14" fill="#fc955e"/><rect x="422.00" y="438.46" width="30.67" height="6.14" fill="#7aa9cf"/><rect x="452.67" y="438.46" width="30.67" height="6.14" fill="#8bb9d8"/><rect x="483.33" y="438.46" width="30.67" height="6.14" fill="#82b0d3"/><rect x="514.00" y="438.46" width="30.67" height="6.14" fill="#fffab8"/><rect x="544.67" y="438.46" width="30.67" height="6.14" fill="#fee395"/><rect x="575.33" y="438.46" width="30.67" height="6.14" fill="#fc955e"/><rect x="422.00" y="444.59" width="30.67" height="6.14" fill="#7aa9cf"/><rect x="452.67" y="444.59" width="30.67" height="6.14" fill="#8bb9d8"/><rect x="483.33" y="444.59" width="30.67" height="6.14" fill="#86b4d5"/><rect x="514.00" y="444.59" width="30.67" height="6.14" fill="#fffab8"/><rect x="544.67" y="444.59" width="30.67" height="6.14" fill="#fee090"/><rect x="575.33" y="444.59" width="30.67" height="6.14" fill="#fc955e"/><rect x="422.00" y="450.73" width="30.67" height="6.14" fill="#80aed2"/><rect x="452.67" y="450.73" width="30.67" height="6.14" fill="#8fbdda"/><rect x="483.33" y="450.73" width="30.67" height="6.14" fill="#6f9ec9"/><rect x="514.00" y="450.73" width="30.67" height="6.14" fill="#fff1aa"/><rect x="544.67" y="450.73" width="30.67" height="6.14" fill="#fee090"/><rect x="575.33" y="450.73" width="30.67" height="6.14" fill="#fc9e64"/><rect x="422.00" y="456.86" width="30.67" height="6.14" fill="#82b0d3"/><rect x="452.67" y="456.86" width="30.67" height="6.14" fill="#88b6d6"/><rect x="483.33" y="456.86" width="30.67" height="6.14" fill="#6f9ec9"/><rect x="514.00" y="456.86" width="30.67" height="6.14" fill="#feeea5"/><rect x="544.67" y="456.86" width="30.67" height="6.14" fill="#fee090"/><rect x="575.33" y="456.86" width="30.67" height="6.14" fill="#fc9e64"/><rect x="422.00" y="463.00" width="30.67" height="6.14" fill="#82b0d3"/><rect x="452.67" y="463.00" width="30.67" height="6.14" fill="#88b6d6"/><rect x="483.33" y="463.00" width="30.67" height="6.14" fill="#6b9ac8"/><rect x="514.00" y="463.00" width="30.67" height="6.14" fill="#feeea5"/><rect x="544.67" y="463.00" width="30.67" height="6.14" fill="#fee090"/><rect x="575.33" y="463.00" width="30.67" height="6.14" fill="#fc9e64"/><rect x="422.00" y="469.14" width="30.67" height="6.14" fill="#82b0d3"/><rect x="452.67" y="469.14" width="30.67" height="6.14" fill="#88b6d6"/><rect x="483.33" y="469.14" width="30.67" height="6.14" fill="#6b9ac8"/><rect x="514.00" y="469.14" width="30.67" height="6.14" fill="#fff1aa"/><rect x="544.67" y="469.14" width="30.67" height="6.14" fill="#fee395"/><rect x="575.33" y="469.14" width="30.67" height="6.14" fill="#fc9e64"/><rect x="422.00" y="475.27" width="30.67" height="6.14" fill="#76a5cd"/><rect x="452.67" y="475.27" width="30.67" height="6.14" fill="#9bc6df"/><rect x="483.33" y="475.27" width="30.67" height="6.14" fill="#6b9ac8"/><rect x="514.00" y="475.27" width="30.67" height="6.14" fill="#fffdbd"/><rect x="544.67" y="475.27" width="30.67" height="6.14" fill="#fee395"/><rect x="575.33" y="475.27" width="30.67" height="6.14" fill="#fc955e"/><rect x="422.00" y="481.41" width="30.67" height="6.14" fill="#76a5cd"/><rect x="452.67" y="481.41" width="30.67" height="6.14" fill="#a1c9e1"/><rect x="483.33" y="481.41" width="30.67" height="6.14" fill="#6796c6"/><rect x="514.00" y="481.41" width="30.67" height="6.14" fill="#fff1aa"/><rect x="544.67" y="481.41" width="30.67" height="6.14" fill="#fee395"/><rect x="575.33" y="481.41" width="30.67" height="6.14" fill="#fc955e"/><rect x="422.00" y="487.54" width="30.67" height="6.14" fill="#76a5cd"/><rect x="452.67" y="487.54" width="30.67" height="6.14" fill="#add1e5"/><rect x="483.33" y="487.54" width="30.67" height="6.14" fill="#6393c4"/><rect x="514.00" y="487.54" width="30.67" height="6.14" fill="#fee395"/><rect x="544.67" y="487.54" width="30.67" height="6.14" fill="#fee090"/><rect x="575.33" y="487.54" width="30.67" height="6.14" fill="#fdb674"/><rect x="422.00" y="493.68" width="30.67" height="6.14" fill="#6b9ac8"/><rect x="452.67" y="493.68" width="30.67" height="6.14" fill="#c0deec"/><rect x="483.33" y="493.68" width="30.67" height="6.14" fill="#608fc2"/><rect x="514.00" y="493.68" width="30.67" height="6.14" fill="#fff6b1"/><rect x="544.67" y="493.68" width="30.67" height="6.14" fill="#fee090"/><rect x="575.33" y="493.68" width="30.67" height="6.14" fill="#fdaa6c"/><rect x="422.00" y="499.82" width="30.67" height="6.14" fill="#6b9ac8"/><rect x="452.67" y="499.82" width="30.67" height="6.14" fill="#c0deec"/><rect x="483.33" y="499.82" width="30.67" height="6.14" fill="#608fc2"/><rect x="514.00" y="499.82" width="30.67" height="6.14" fill="#fff6b1"/><rect x="544.67" y="499.82" width="30.67" height="6.14" fill="#fedc8d"/><rect x="575.33" y="499.82" width="30.67" height="6.14" fill="#fdaa6c"/><rect x="422.00" y="505.95" width="30.67" height="6.14" fill="#b8d9ea"/><rect x="452.67" y="505.95" width="30.67" height="6.14" fill="#b8d9ea"/><rect x="483.33" y="505.95" width="30.67" height="6.14" fill="#d73027"/><rect x="514.00" y="505.95" width="30.67" height="6.14" fill="#bcdceb"/><rect x="544.67" y="505.95" width="30.67" height="6.14" fill="#bcdceb"/><rect x="575.33" y="505.95" width="30.67" height="6.14" fill="#bcdceb"/><rect x="422.00" y="512.09" width="30.67" height="6.14" fill="#b8d9ea"/><rect x="452.67" y="512.09" width="30.67" height="6.14" fill="#d73027"/><rect x="483.33" y="512.09" width="30.67" height="6.14" fill="#b8d9ea"/><rect x="514.00" y="512.09" width="30.67" height="6.14" fill="#b8d9ea"/><rect x="544.67" y="512.09" width="30.67" height="6.14" fill="#b8d9ea"/><rect x="575.33" y="512.09" width="30.67" height="6.14" fill="#b8d9ea"/><rect x="422.00" y="518.22" width="30.67" height="6.14" fill="#e0f3f8"/><rect x="452.67" y="518.22" width="30.67" height="6.14" fill="#d73027"/><rect x="483.33" y="518.22" width="30.67" height="6.14" fill="#f3fad6"/><rect x="514.00" y="518.22" width="30.67" height="6.14" fill="#a1c9e1"/><rect x="544.67" y="518.22" width="30.67" height="6.14" fill="#a1c9e1"/><rect x="575.33" y="518.22" width="30.67" height="6.14" fill="#a9cfe4"/><rect x="422.00" y="524.36" width="30.67" height="6.14" fill="#e5f5ef"/><rect x="452.67" y="524.36" width="30.67" height="6.14" fill="#d73027"/><rect x="483.33" y="524.36" width="30.67" height="6.14" fill="#f0f9dc"/><rect x="514.00" y="524.36" width="30.67" height="6.14" fill="#a5cce2"/><rect x="544.67" y="524.36" width="30.67" height="6.14" fill="#95c2dc"/><rect x="575.33" y="524.36" width="30.67" height="6.14" fill="#a9cfe4"/><rect x="422.00" y="530.50" width="30.67" height="6.14" fill="#ecf8e1"/><rect x="452.67" y="530.50" width="30.67" height="6.14" fill="#d73027"/><rect x="483.33" y="530.50" width="30.67" height="6.14" fill="#f0f9dc"/><rect x="514.00" y="530.50" width="30.67" height="6.14" fill="#95c2dc"/><rect x="544.67" y="530.50" width="30.67" height="6.14" fill="#a5cce2"/><rect x="575.33" y="530.50" width="30.67" height="6.14" fill="#a1c9e1"/><rect x="422.00" y="536.63" width="30.67" height="6.14" fill="#f0f9dc"/><rect x="452.67" y="536.63" width="30.67" height="6.14" fill="#d73027"/><rect x="483.33" y="536.63" width="30.67" height="6.14" fill="#f0f9dc"/><rect x="514.00" y="536.63" width="30.67" height="6.14" fill="#a5cce2"/><rect x="544.67" y="536.63" width="30.67" height="6.14" fill="#91bfdb"/><rect x="575.33" y="536.63" width="30.67" height="6.14" fill="#a1c9e1"/><rect x="422.00" y="542.77" width="30.67" height="6.14" fill="#f4fbd3"/><rect x="452.67" y="542.77" width="30.67" height="6.14" fill="#d73027"/><rect x="483.33" y="542.77" width="30.67" height="6.14" fill="#d8eef5"/><rect x="514.00" y="542.77" width="30.67" height="6.14" fill="#a5cce2"/><rect x="544.67" y="542.77" width="30.67" height="6.14" fill="#a5cce2"/><rect x="575.33" y="542.77" width="30.67" height="6.14" fill="#a9cfe4"/><rect x="422.00" y="548.90" width="30.67" height="6.14" fill="#f6fbd0"/><rect x="452.67" y="548.90" width="30.67" height="6.14" fill="#d93529"/><rect x="483.33" y="548.90" width="30.67" height="6.14" fill="#b8d9ea"/><rect x="514.00" y="548.90" width="30.67" height="6.14" fill="#a9cfe4"/><rect x="544.67" y="548.90" width="30.67" height="6.14" fill="#a9cfe4"/><rect x="575.33" y="548.90" width="30.67" height="6.14" fill="#a9cfe4"/><rect x="422.00" y="555.04" width="30.67" height="6.14" fill="#fdaa6c"/><rect x="452.67" y="555.04" width="30.67" height="6.14" fill="#fedc8d"/><rect x="483.33" y="555.04" width="30.67" height="6.14" fill="#fee99e"/><rect x="514.00" y="555.04" width="30.67" height="6.14" fill="#7aa9cf"/><rect x="544.67" y="555.04" width="30.67" height="6.14" fill="#7eacd1"/><rect x="575.33" y="555.04" width="30.67" height="6.14" fill="#80aed2"/><rect x="422.00" y="561.18" width="30.67" height="6.14" fill="#fdb272"/><rect x="452.67" y="561.18" width="30.67" height="6.14" fill="#fdb272"/><rect x="483.33" y="561.18" width="30.67" height="6.14" fill="#f3fad6"/><rect x="514.00" y="561.18" width="30.67" height="6.14" fill="#5282bb"/><rect x="544.67" y="561.18" width="30.67" height="6.14" fill="#91bfdb"/><rect x="575.33" y="561.18" width="30.67" height="6.14" fill="#b8d9ea"/><rect x="422.00" y="567.31" width="30.67" height="6.14" fill="#fedc8d"/><rect x="452.67" y="567.31" width="30.67" height="6.14" fill="#f67f51"/><rect x="483.33" y="567.31" width="30.67" height="6.14" fill="#ecf8e1"/><rect x="514.00" y="567.31" width="30.67" height="6.14" fill="#7aa9cf"/><rect x="544.67" y="567.31" width="30.67" height="6.14" fill="#91bfdb"/><rect x="575.33" y="567.31" width="30.67" height="6.14" fill="#95c2dc"/><rect x="422.00" y="573.45" width="30.67" height="6.14" fill="#fee395"/><rect x="452.67" y="573.45" width="30.67" height="6.14" fill="#f1714a"/><rect x="483.33" y="573.45" width="30.67" height="6.14" fill="#e5f5ef"/><rect x="514.00" y="573.45" width="30.67" height="6.14" fill="#7aa9cf"/><rect x="544.67" y="573.45" width="30.67" height="6.14" fill="#bcdceb"/><rect x="575.33" y="573.45" width="30.67" height="6.14" fill="#88b6d6"/><rect x="422.00" y="579.58" width="30.67" height="6.14" fill="#feeea5"/><rect x="452.67" y="579.58" width="30.67" height="6.14" fill="#ed6845"/><rect x="483.33" y="579.58" width="30.67" height="6.14" fill="#e2f4f5"/><rect x="514.00" y="579.58" width="30.67" height="6.14" fill="#6f9ec9"/><rect x="544.67" y="579.58" width="30.67" height="6.14" fill="#b8d9ea"/><rect x="575.33" y="579.58" width="30.67" height="6.14" fill="#88b6d6"/><rect x="422.00" y="585.72" width="30.67" height="6.14" fill="#fee395"/><rect x="452.67" y="585.72" width="30.67" height="6.14" fill="#f1714a"/><rect x="483.33" y="585.72" width="30.67" height="6.14" fill="#dcf0f7"/><rect x="514.00" y="585.72" width="30.67" height="6.14" fill="#88b6d6"/><rect x="544.67" y="585.72" width="30.67" height="6.14" fill="#a9cfe4"/><rect x="575.33" y="585.72" width="30.67" height="6.14" fill="#88b6d6"/><rect x="422.00" y="591.86" width="30.67" height="6.14" fill="#fee99e"/><rect x="452.67" y="591.86" width="30.67" height="6.14" fill="#f67f51"/><rect x="483.33" y="591.86" width="30.67" height="6.14" fill="#fff6b1"/><rect x="514.00" y="591.86" width="30.67" height="6.14" fill="#80aed2"/><rect x="544.67" y="591.86" width="30.67" height="6.14" fill="#88b6d6"/><rect x="575.33" y="591.86" width="30.67" height="6.14" fill="#80aed2"/><rect x="422.00" y="597.99" width="30.67" height="6.14" fill="#fee99e"/><rect x="452.67" y="597.99" width="30.67" height="6.14" fill="#f67f51"/><rect x="483.33" y="597.99" width="30.67" height="6.14" fill="#fffab8"/><rect x="514.00" y="597.99" width="30.67" height="6.14" fill="#88b6d6"/><rect x="544.67" y="597.99" width="30.67" height="6.14" fill="#91bfdb"/><rect x="575.33" y="597.99" width="30.67" height="6.14" fill="#6f9ec9"/><rect x="422.00" y="604.13" width="30.67" height="6.14" fill="#f0f9dc"/><rect x="452.67" y="604.13" width="30.67" height="6.14" fill="#ed6845"/><rect x="483.33" y="604.13" width="30.67" height="6.14" fill="#fffab8"/><rect x="514.00" y="604.13" width="30.67" height="6.14" fill="#88b6d6"/><rect x="544.67" y="604.13" width="30.67" height="6.14" fill="#88b6d6"/><rect x="575.33" y="604.13" width="30.67" height="6.14" fill="#88b6d6"/><rect x="422.00" y="610.26" width="30.67" height="6.14" fill="#feeea5"/><rect x="452.67" y="610.26" width="30.67" height="6.14" fill="#f1714a"/><rect x="483.33" y="610.26" width="30.67" height="6.14" fill="#f4fbd3"/><rect x="514.00" y="610.26" width="30.67" height="6.14" fill="#91bfdb"/><rect x="544.67" y="610.26" width="30.67" height="6.14" fill="#88b6d6"/><rect x="575.33" y="610.26" width="30.67" height="6.14" fill="#88b6d6"/></g>
<path d="M422.00 12.00L421.90 12.00M422.00 18.14L421.90 18.14M422.00 24.28L416.70 24.28M422.00 30.41L416.70 30.41M416.70 24.28L416.70 30.41M421.90 15.07L410.50 15.07M416.70 27.34L410.50 27.34M410.50 15.07L410.50 27.34M422.00 54.96L421.90 54.96M422.00 61.09L421.90 61.09M422.00 48.82L420.30 48.82M421.90 58.02L420.30 58.02M420.30 48.82L420.30 58.02M422.00 42.68L415.80 42.68M420.30 53.42L415.80 53.42M415.80 42.68L415.80 53.42M422.00 36.55L410.50 36.55M415.80 48.05L410.50 48.05M410.50 36.55L410.50 48.05M422.00 67.23L418.50 67.23M422.00 73.36L418.50 73.36M418.50 67.23L418.50 73.36M422.00 79.50L419.40 79.50M422.00 85.64L419.40 85.64M419.40 79.50L419.40 85.64M422.00 91.77L418.50 91.77M422.00 97.91L418.50 97.91M418.50 91.77L418.50 97.91M419.40 82.57L415.70 82.57M418.50 94.84L415.70 94.84M415.70 82.57L415.70 94.84M418.50 70.30L410.00 70.30M415.70 88.70L410.00 88.70M410.00 70.30L410.00 88.70M410.50 42.30L402.20 42.30M410.00 79.50L402.20 79.50M402.20 42.30L402.20 79.50M422.00 110.18L419.50 110.18M422.00 116.32L419.50 116.32M419.50 110.18L419.50 116.32M422.00 104.04L418.50 104.04M419.50 113.25L418.50 113.25M418.50 104.04L418.50 113.25M422.00 128.59L417.20 128.59M422.00 134.72L417.20 134.72M417.20 128.59L417.20 134.72M422.00 122.45L415.40 122.45M417.20 131.66L415.40 131.66M415.40 122.45L415.40 131.66M418.50 108.65L412.30 108.65M415.40 127.05L412.30 127.05M412.30 108.65L412.30 127.05M422.00 140.86L418.50 140.86M422.00 147.00L418.50 147.00M418.50 140.86L418.50 147.00M422.00 159.27L419.40 159.27M422.00 165.40L419.40 165.40M419.40 159.27L419.40 165.40M422.00 153.13L417.50 153.13M419.40 162.34L417.50 162.34M417.50 153.13L417.50 162.34M422.00 171.54L416.60 171.54M422.00 177.68L416.60 177.68M416.60 171.54L416.60 177.68M417.50 157.73L414.50 157.73M416.60 174.61L414.50 174.61M414.50 157.73L414.50 174.61M418.50 143.93L409.40 143.93M414.50 166.17L409.40 166.17M409.40 143.93L409.40 166.17M412.30 117.85L405.40 117.85M409.40 155.05L405.40 155.05M405.40 117.85L405.40 155.05M422.00 183.81L417.40 183.81M422.00 189.95L417.40 189.95M417.40 183.81L417.40 189.95M422.00 208.36L419.80 208.36M422.00 214.49L419.80 214.49M419.80 208.36L419.80 214.49M422.00 220.63L419.80 220.63M422.00 226.76L419.80 226.76M419.80 220.63L419.80 226.76M419.80 211.42L418.70 211.42M419.80 223.70L418.70 223.70M418.70 211.42L418.70 223.70M422.00 202.22L417.50 202.22M418.70 217.56L417.50 217.56M417.50 202.22L417.50 217.56M422.00 196.08L414.70 196.08M417.50 209.89L414.70 209.89M414.70 196.08L414.70 209.89M417.40 186.88L411.10 186.88M414.70 202.99L411.10 202.99M411.10 186.88L411.10 202.99M422.00 232.90L418.70 232.90M422.00 239.04L418.70 239.04M418.70 232.90L418.70 239.04M422.00 245.17L418.70 245.17M422.00 251.31L418.70 251.31M418.70 245.17L418.70 251.31M418.70 235.97L416.90 235.97M418.70 248.24L416.90 248.24M416.90 235.97L416.90 248.24M422.00 257.44L416.00 257.44M422.00 263.58L416.00 263.58M416.00 257.44L416.00 263.58M416.90 242.10L413.30 242.10M416.00 260.51L413.30 260.51M413.30 242.10L413.30 260.51M422.00 269.72L418.50 269.72M422.00 275.85L418.50 275.85M418.50 269.72L418.50 275.85M422.00 288.12L420.00 288.12M422.00 294.26L420.00 294.26M420.00 288.12L420.00 294.26M422.00 281.99L418.50 281.99M420.00 291.19L418.50 291.19M418.50 281.99L418.50 291.19M422.00 306.53L420.00 306.53M422.00 312.67L420.00 312.67M420.00 306.53L420.00 312.67M422.00 300.40L418.50 300.40M420.00 309.60L418.50 309.60M418.50 300.40L418.50 309.60M418.50 286.59L416.30 286.59M418.50 305.00L416.30 305.00M416.30 286.59L416.30 305.00M418.50 272.78L412.50 272.78M416.30 295.79L412.50 295.79M412.50 272.78L412.50 295.79M413.30 251.31L410.20 251.31M412.50 284.29L410.20 284.29M410.20 251.31L410.20 284.29M411.10 194.93L407.50 194.93M410.20 267.80L407.50 267.80M407.50 194.93L407.50 267.80M422.00 331.08L419.00 331.08M422.00 337.21L419.00 337.21M419.00 331.08L419.00 337.21M422.00 324.94L417.60 324.94M419.00 334.14L417.60 334.14M417.60 324.94L417.60 334.14M422.00 343.35L416.60 343.35M422.00 349.48L416.60 349.48M416.60 343.35L416.60 349.48M417.60 329.54L416.30 329.54M416.60 346.42L416.30 346.42M416.30 329.54L416.30 346.42M422.00 318.80L413.10 318.80M416.30 337.98L413.10 337.98M413.10 318.80L413.10 337.98M422.00 361.76L418.20 361.76M422.00 367.89L418.20 367.89M418.20 361.76L418.20 367.89M422.00 380.16L418.50 380.16M422.00 386.30L418.50 386.30M418.50 380.16L418.50 386.30M422.00 374.03L417.80 374.03M418.50 383.23L417.80 383.23M417.80 374.03L417.80 383.23M418.20 364.82L416.30 364.82M417.80 378.63L416.30 378.63M416.30 364.82L416.30 378.63M422.00 355.62L414.10 355.62M416.30 371.73L414.10 371.73M414.10 355.62L414.10 371.73M422.00 398.57L421.00 398.57M422.00 404.71L421.00 404.71M421.00 398.57L421.00 404.71M422.00 410.84L421.00 410.84M422.00 416.98L421.00 416.98M421.00 410.84L421.00 416.98M421.00 401.64L420.50 401.64M421.00 413.91L420.50 413.91M420.50 401.64L420.50 413.91M422.00 429.25L420.50 429.25M422.00 435.39L420.50 435.39M420.50 429.25L420.50 435.39M422.00 423.12L419.50 423.12M420.50 432.32L419.50 432.32M419.50 423.12L419.50 432.32M420.50 407.78L418.30 407.78M419.50 427.72L418.30 427.72M418.30 407.78L418.30 427.72M422.00 392.44L417.40 392.44M418.30 417.75L417.40 417.75M417.40 392.44L417.40 417.75M422.00 441.52L420.10 441.52M422.00 447.66L420.10 447.66M420.10 441.52L420.10 447.66M422.00 466.07L420.50 466.07M422.00 472.20L420.50 472.20M420.50 466.07L420.50 472.20M422.00 459.93L420.00 459.93M420.50 469.14L420.00 469.14M420.00 459.93L420.00 469.14M422.00 453.80L419.20 453.80M420.00 464.53L419.20 464.53M419.20 453.80L419.20 464.53M420.10 444.59L416.10 444.59M419.20 459.16L416.10 459.16M416.10 444.59L416.10 459.16M422.00 478.34L418.40 478.34M422.00 484.48L418.40 484.48M418.40 478.34L418.40 484.48M422.00 490.61L420.00 490.61M422.00 496.75L420.00 496.75M420.00 490.61L420.00 496.75M420.00 493.68L417.00 493.68M422.00 502.88L417.00 502.88M417.00 493.68L417.00 502.88M418.40 481.41L416.10 481.41M417.00 498.28L416.10 498.28M416.10 481.41L416.10 498.28M416.10 451.88L413.90 451.88M416.10 489.85L413.90 489.85M413.90 451.88L413.90 489.85M417.40 405.09L413.40 405.09M413.90 470.86L413.40 470.86M413.40 405.09L413.40 470.86M414.10 363.67L409.80 363.67M413.40 437.98L409.80 437.98M409.80 363.67L409.80 437.98M413.10 328.39L406.20 328.39M409.80 400.83L406.20 400.83M406.20 328.39L406.20 400.83M407.50 231.37L401.00 231.37M406.20 364.61L401.00 364.61M401.00 231.37L401.00 364.61M405.40 136.45L396.40 136.45M401.00 297.99L396.40 297.99M396.40 136.45L396.40 297.99M402.20 60.90L392.20 60.90M396.40 217.22L392.20 217.22M392.20 60.90L392.20 217.22M410.50 21.21L380.50 21.21M392.20 139.06L380.50 139.06M380.50 21.21L380.50 139.06M422.00 5.87L380.30 5.87M380.50 80.13L380.30 80.13M380.30 5.87L380.30 80.13M422.00 521.29L420.50 521.29M422.00 527.43L420.50 527.43M420.50 521.29L420.50 527.43M422.00 533.56L420.50 533.56M422.00 539.70L420.50 539.70M420.50 533.56L420.50 539.70M420.50 524.36L419.40 524.36M420.50 536.63L419.40 536.63M419.40 524.36L419.40 536.63M422.00 545.84L418.50 545.84M422.00 551.97L418.50 551.97M418.50 545.84L418.50 551.97M419.40 530.50L414.50 530.50M418.50 548.90L414.50 548.90M414.50 530.50L414.50 548.90M422.00 515.16L412.40 515.16M414.50 539.70L412.40 539.70M412.40 515.16L412.40 539.70M422.00 558.11L411.80 558.11M422.00 564.24L411.80 564.24M411.80 558.11L411.80 564.24M422.00 570.38L419.40 570.38M422.00 576.52L419.40 576.52M419.40 570.38L419.40 576.52M422.00 582.65L419.40 582.65M422.00 588.79L419.40 588.79M419.40 582.65L419.40 588.79M419.40 573.45L417.50 573.45M419.40 585.72L417.50 585.72M417.50 573.45L417.50 585.72M422.00 594.92L418.50 594.92M422.00 601.06L418.50 601.06M418.50 594.92L418.50 601.06M422.00 607.20L416.30 607.20M422.00 613.33L416.30 613.33M416.30 607.20L416.30 613.33M418.50 597.99L413.90 597.99M416.30 610.26L413.90 610.26M413.90 597.99L413.90 610.26M417.50 579.58L411.20 579.58M413.90 604.13L411.20 604.13M411.20 579.58L411.20 604.13M411.80 561.18L403.50 561.18M411.20 591.86L403.50 591.86M403.50 561.18L403.50 591.86M412.40 527.43L392.10 527.43M403.50 576.52L392.10 576.52M392.10 527.43L392.10 576.52M422.00 509.02L379.60 509.02M392.10 551.97L379.60 551.97M379.60 509.02L379.60 551.97M380.30 43.00L368.60 43.00M379.60 530.50L368.60 530.50M368.60 43.00L368.60 530.50" stroke="#111" stroke-width="0.9" fill="none" stroke-linecap="square"/>
<g font-size="6.15" fill="#000" stroke="#000" stroke-width="0.1"><text x="609.6" y="7.97">L|1P1092T11</text><text x="609.6" y="14.10">L|8E351T0</text><text x="609.6" y="20.24">L|2A1228T86</text><text x="609.6" y="26.38">L|2A1064T68</text><text x="609.6" y="32.51">L|1A807T26</text><text x="609.6" y="38.65">L|8A199T29</text><text x="609.6" y="44.78">L|1A1197T76</text><text x="609.6" y="50.92">L|2A1239T191</text><text x="609.6" y="57.06">L|1A742T24</text><text x="609.6" y="63.19">Lu41A42G102</text><text x="609.6" y="69.33">L|7C245T6</text><text x="609.6" y="75.46">L|2A256G93</text><text x="609.6" y="81.60">L|4C261T3</text><text x="609.6" y="87.74">L|1P1055T24</text><text x="609.6" y="93.87">L|7C239T6</text><text x="609.6" y="100.01">L|9C668G11</text><text x="609.6" y="106.14">L|8P178T58</text><text x="609.6" y="112.28">L|7C265T7</text><text x="609.6" y="118.42">L|2C195T5</text><text x="609.6" y="124.55">L|8P261T47</text><text x="609.6" y="130.69">L|8C16T7</text><text x="609.6" y="136.82">L|8A706T36</text><text x="609.6" y="142.96">L|1A741T29</text><text x="609.6" y="149.10">L|3P862T14</text><text x="609.6" y="155.23">L|2C1072T15</text><text x="609.6" y="161.37">L|7C239T7</text><text x="609.6" y="167.50">L|2A1227T104</text><text x="609.6" y="173.64">L|9C536T8</text><text x="609.6" y="179.78">L|1C152T5</text><text x="609.6" y="185.91">L|1P845T24</text><text x="609.6" y="192.05">L|1P712T38</text><text x="609.6" y="198.18">L|4A169T34</text><text x="609.6" y="204.32">L|5A335T29</text><text x="609.6" y="210.46">L|1C158T10</text><text x="609.6" y="216.59">L|4C292T4</text><text x="609.6" y="222.73">L|4C249T6</text><text x="609.6" y="228.86">L|1A143T42</text><text x="609.6" y="235.00">L|2A1168T22</text><text x="609.6" y="241.14">L|2P434T29</text><text x="609.6" y="247.27">L|1C941G12</text><text x="609.6" y="253.41">L|8C98T13</text><text x="609.6" y="259.54">Lu41C6G5</text><text x="609.6" y="265.68">L|5A80T53</text><text x="609.6" y="271.82">L|8P273T12</text><text x="609.6" y="277.95">L|7C38T2</text><text x="609.6" y="284.09">L|2C97T3</text><text x="609.6" y="290.22">L|1C1054G3</text><text x="609.6" y="296.36">L|8A30T94</text><text x="609.6" y="302.50">L|9C590T16</text><text x="609.6" y="308.63">L|6P680T34</text><text x="609.6" y="314.77">L|8C30T1</text><text x="609.6" y="320.90">L|2P333T66</text><text x="609.6" y="327.04">L|9C575T8</text><text x="609.6" y="333.18">L|2P973T12</text><text x="609.6" y="339.31">Lu41C28T11</text><text x="609.6" y="345.45">L|6P522T31</text><text x="609.6" y="351.58">L|2C97T4</text><text x="609.6" y="357.72">L|2A279T59</text><text x="609.6" y="363.86">L|2C1072T16</text><text x="609.6" y="369.99">L|4C1T0</text><text x="609.6" y="376.13">L|7C680T6</text><text x="609.6" y="382.26">L|1P952T30</text><text x="609.6" y="388.40">L|6P806T43</text><text x="609.6" y="394.54">L|3P823T20</text><text x="609.6" y="400.67">L|4C89T16</text><text x="609.6" y="406.81">L|1A131T60</text><text x="609.6" y="412.94">L|1P1050T22</text><text x="609.6" y="419.08">L|1A133T34</text><text x="609.6" y="425.22">L|8P108T38</text><text x="609.6" y="431.35">L|3A745T101</text><text x="609.6" y="437.49">L|1P963T38</text><text x="609.6" y="443.62">L|2C1067T7</text><text x="609.6" y="449.76">L|7A471T91</text><text x="609.6" y="455.90">L|4P290T12</text><text x="609.6" y="462.03">L|2C66T4</text><text x="609.6" y="468.17">L|7A471T93</text><text x="609.6" y="474.30">L|8C71T1</text><text x="609.6" y="480.44">L|3C715T9</text><text x="609.6" y="486.58">L|1P1176T31</text><text x="609.6" y="492.71">L|9A403T84</text><text x="609.6" y="498.85">L|4P765T20</text><text x="609.6" y="504.98">L|1P1056T19</text><text x="609.6" y="511.12">L|7A548T49</text><text x="609.6" y="517.26">L|2A1186T34</text><text x="609.6" y="523.39">L|5A44T114</text><text x="609.6" y="529.53">L|4A802G107</text><text x="609.6" y="535.66">L|8A178T71</text><text x="609.6" y="541.80">L|6A698T108</text><text x="609.6" y="547.94">L|1A563G10</text><text x="609.6" y="554.07">L|1A210G39</text><text x="609.6" y="560.21">L|7A484T28</text><text x="609.6" y="566.34">L|1A733G59</text><text x="609.6" y="572.48">L|9A372T33</text><text x="609.6" y="578.62">L|4A160T60</text><text x="609.6" y="584.75">L|4A759T45</text><text x="609.6" y="590.89">L|4A251G58</text><text x="609.6" y="597.02">L|2P908T13</text><text x="609.6" y="603.16">L|6C535G12</text><text x="609.6" y="609.30">L|4A684T34</text><text x="609.6" y="615.43">L|1A1225G78</text></g>
<text transform="translate(437.33,619.4) rotate(90)" font-size="6.15" fill="#000" dy="2.1">cl1</text>
<text transform="translate(468.00,619.4) rotate(90)" font-size="6.15" fill="#000" dy="2.1">cl2</text>
<text transform="translate(498.67,619.4) rotate(90)" font-size="6.15" fill="#000" dy="2.1">cl3</text>
<text transform="translate(529.33,619.4) rotate(90)" font-size="6.15" fill="#000" dy="2.1">ck1</text>
<text transform="translate(560.00,619.4) rotate(90)" font-size="6.15" fill="#000" dy="2.1">ck2</text>
<text transform="translate(590.67,619.4) rotate(90)" font-size="6.15" fill="#000" dy="2.1">ck3</text>
<defs><linearGradient id="cb" x1="0" y1="0" x2="0" y2="1"><stop offset="0.000" stop-color="#D73027"/><stop offset="0.167" stop-color="#FC8D59"/><stop offset="0.333" stop-color="#FEE090"/><stop offset="0.500" stop-color="#FFFFBF"/><stop offset="0.667" stop-color="#E0F3F8"/><stop offset="0.833" stop-color="#91BFDB"/><stop offset="1.000" stop-color="#4575B4"/></linearGradient></defs>
<rect x="657.7" y="2.9" width="10.5" height="153.1" fill="url(#cb)"/>
<text x="671.6" y="6.90" font-size="6.15" fill="#000">2</text>
<text x="671.6" y="29.98" font-size="6.15" fill="#000">1.5</text>
<text x="671.6" y="53.05" font-size="6.15" fill="#000">1</text>
<text x="671.6" y="76.12" font-size="6.15" fill="#000">0.5</text>
<text x="671.6" y="99.20" font-size="6.15" fill="#000">0</text>
<text x="671.6" y="122.27" font-size="6.15" fill="#000">−0.5</text>
<text x="671.6" y="145.35" font-size="6.15" fill="#000">−1</text>
<text x="176.5" y="664.2" font-size="20" font-weight="bold" text-anchor="middle" style="font-family:'Liberation Serif',serif">(a)</text>
<text x="525.2" y="661.8" font-size="20" font-weight="bold" text-anchor="middle" style="font-family:'Liberation Serif',serif">(b)</text>
</svg></body></html>
